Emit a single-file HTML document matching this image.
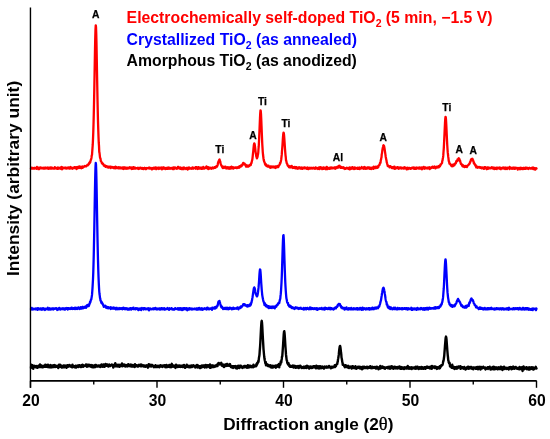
<!DOCTYPE html>
<html><head><meta charset="utf-8"><style>
html,body{margin:0;padding:0;background:#fff;}
svg{display:block;}
text{font-family:'Liberation Sans', Arial, sans-serif;font-weight:bold;}
</style></head><body>
<svg width="550" height="439" viewBox="0 0 550 439">
<rect width="550" height="439" fill="#fff"/>
<g fill="none" stroke-linejoin="round" stroke-linecap="round" stroke-width="2.3">
<path stroke="#000" stroke-width="2.4" d="M31.00 367.93L31.25 364.7 31.50 366.8 31.75 366.1 32.00 366.2 32.25 366.3 32.50 365.1 32.75 366.3 33.00 365.9 33.25 368.8 33.50 366.6 33.75 366.2 34.00 366.3 34.25 366.0 34.50 365.7 34.75 366.2 35.00 366.8 35.25 366.3 35.50 367.1 35.75 366.3 36.00 366.5 36.25 367.5 36.50 366.8 36.75 366.1 37.00 366.3 37.25 366.8 37.50 367.8 37.75 366.2 38.00 366.3 38.25 367.1 38.50 365.8 38.75 366.2 39.00 367.0 39.25 366.8 39.50 366.5 39.75 366.9 40.00 364.4 40.25 367.1 40.50 365.7 40.75 365.2 41.00 366.6 41.25 366.9 41.50 366.1 41.75 365.6 42.00 366.4 42.25 366.3 42.50 367.4 42.75 366.9 43.00 366.5 43.25 367.1 43.50 366.2 43.75 365.7 44.00 366.8 44.25 366.8 44.50 366.2 44.75 365.8 45.00 366.5 45.25 364.6 45.50 366.8 45.75 366.7 46.00 365.2 46.25 366.4 46.50 365.7 46.75 366.9 47.00 364.9 47.25 365.7 47.50 366.8 47.75 367.1 48.00 364.8 48.25 366.0 48.50 366.5 48.75 365.9 49.00 367.4 49.25 365.5 49.50 366.6 49.75 365.6 50.00 367.3 50.25 366.3 50.50 366.0 50.75 365.1 51.00 367.5 51.25 366.8 51.50 366.8 51.75 367.1 52.00 366.5 52.25 365.8 52.50 365.7 52.75 365.7 53.00 367.2 53.25 365.2 53.50 365.8 53.75 366.0 54.00 366.4 54.25 366.7 54.50 365.4 54.75 365.0 55.00 366.2 55.25 367.1 55.50 366.8 55.75 366.4 56.00 366.0 56.25 366.4 56.50 366.1 56.75 366.8 57.00 365.7 57.25 366.3 57.50 366.1 57.75 366.6 58.00 366.4 58.25 368.0 58.50 367.3 58.75 367.3 59.00 364.8 59.25 366.0 59.50 365.8 59.75 366.6 60.00 364.6 60.25 367.0 60.50 366.9 60.75 365.3 61.00 365.5 61.25 365.6 61.50 366.2 61.75 366.6 62.00 367.6 62.25 366.0 62.50 366.7 62.75 366.3 63.00 367.4 63.25 366.7 63.50 367.1 63.75 365.4 64.00 366.0 64.25 365.6 64.50 367.2 64.75 366.6 65.00 365.9 65.25 365.8 65.50 366.5 65.75 365.7 66.00 365.5 66.25 366.5 66.50 367.9 66.75 366.0 67.00 365.7 67.25 365.3 67.50 365.2 67.75 366.5 68.00 366.7 68.25 366.1 68.50 366.3 68.75 366.2 69.00 366.2 69.25 365.0 69.50 365.8 69.75 366.2 70.00 365.6 70.25 365.8 70.50 365.5 70.75 365.9 71.00 366.7 71.25 365.8 71.50 366.0 71.75 366.7 72.00 366.5 72.25 367.3 72.50 364.6 72.75 366.7 73.00 365.7 73.25 366.2 73.50 366.6 73.75 366.8 74.00 366.8 74.25 366.2 74.50 367.2 74.75 365.9 75.00 365.9 75.25 366.6 75.50 365.7 75.75 367.6 76.00 366.8 76.25 367.6 76.50 366.0 76.75 365.8 77.00 366.1 77.25 366.5 77.50 365.6 77.75 366.3 78.00 366.0 78.25 367.1 78.50 365.5 78.75 366.7 79.00 365.6 79.25 365.3 79.50 365.5 79.75 365.2 80.00 366.1 80.25 366.7 80.50 366.1 80.75 366.4 81.00 367.1 81.25 366.2 81.50 366.1 81.75 365.8 82.00 364.9 82.25 366.5 82.50 364.7 82.75 366.4 83.00 366.0 83.25 366.8 83.50 365.9 83.75 365.4 84.00 366.2 84.25 365.6 84.50 365.8 84.75 366.0 85.00 365.9 85.25 365.8 85.50 365.4 85.75 365.8 86.00 364.4 86.25 365.8 86.50 365.1 86.75 366.7 87.00 366.8 87.25 364.6 87.50 366.0 87.75 365.8 88.00 365.2 88.25 366.3 88.50 365.6 88.75 364.7 89.00 365.7 89.25 365.8 89.50 366.0 89.75 365.0 90.00 366.3 90.25 366.4 90.50 365.1 90.75 365.4 91.00 365.8 91.25 365.5 91.50 367.1 91.75 366.0 92.00 365.1 92.25 365.3 92.50 365.8 92.75 367.4 93.00 365.7 93.25 365.9 93.50 366.2 93.75 365.8 94.00 367.4 94.25 365.4 94.50 366.3 94.75 365.9 95.00 366.2 95.25 365.0 95.50 367.0 95.75 365.7 96.00 365.8 96.25 365.1 96.50 365.3 96.75 366.2 97.00 366.4 97.25 366.3 97.50 366.6 97.75 366.2 98.00 365.8 98.25 366.3 98.50 366.1 98.75 365.6 99.00 366.2 99.25 366.6 99.50 365.9 99.75 365.4 100.00 366.2 100.25 367.0 100.50 365.5 100.75 365.6 101.00 365.6 101.25 366.5 101.50 364.4 101.75 365.9 102.00 366.5 102.25 365.1 102.50 366.7 102.75 366.0 103.00 365.2 103.25 365.8 103.50 364.5 103.75 365.2 104.00 366.9 104.25 365.0 104.50 366.9 104.75 365.5 105.00 366.3 105.25 365.6 105.50 364.0 105.75 365.2 106.00 365.7 106.25 364.8 106.50 364.6 106.75 365.8 107.00 365.1 107.25 364.4 107.50 365.1 107.75 366.1 108.00 365.2 108.25 366.2 108.50 366.6 108.75 365.5 109.00 364.7 109.25 364.6 109.50 365.5 109.75 366.1 110.00 365.7 110.25 365.9 110.50 365.2 110.75 365.7 111.00 365.1 111.25 365.2 111.50 364.6 111.75 364.4 112.00 365.1 112.25 364.7 112.50 364.8 112.75 365.9 113.00 365.4 113.25 367.5 113.50 366.1 113.75 365.0 114.00 366.0 114.25 365.7 114.50 364.9 114.75 366.2 115.00 364.8 115.25 363.2 115.50 365.9 115.75 364.9 116.00 366.4 116.25 364.9 116.50 364.5 116.75 366.4 117.00 364.6 117.25 365.5 117.50 366.4 117.75 365.4 118.00 365.3 118.25 365.4 118.50 365.9 118.75 364.8 119.00 365.7 119.25 365.7 119.50 366.9 119.75 365.1 120.00 364.7 120.25 365.8 120.50 365.0 120.75 365.5 121.00 365.4 121.25 366.1 121.50 364.9 121.75 365.3 122.00 363.5 122.25 364.7 122.50 366.4 122.75 364.9 123.00 364.9 123.25 364.5 123.50 365.8 123.75 365.5 124.00 364.5 124.25 365.8 124.50 365.6 124.75 365.9 125.00 364.9 125.25 366.6 125.50 365.7 125.75 365.3 126.00 365.0 126.25 365.2 126.50 366.0 126.75 365.2 127.00 366.2 127.25 365.8 127.50 366.4 127.75 366.0 128.00 365.4 128.25 364.1 128.50 365.7 128.75 366.0 129.00 365.6 129.25 365.9 129.50 365.2 129.75 365.2 130.00 364.8 130.25 366.4 130.50 365.6 130.75 365.2 131.00 364.6 131.25 365.4 131.50 366.5 131.75 365.8 132.00 365.0 132.25 366.5 132.50 366.5 132.75 366.2 133.00 366.1 133.25 366.4 133.50 365.9 133.75 366.1 134.00 365.0 134.25 366.6 134.50 365.7 134.75 367.0 135.00 364.2 135.25 366.1 135.50 366.3 135.75 365.4 136.00 365.9 136.25 366.1 136.50 366.0 136.75 365.2 137.00 365.5 137.25 366.3 137.50 366.5 137.75 365.7 138.00 365.7 138.25 365.8 138.50 366.4 138.75 364.9 139.00 364.7 139.25 365.8 139.50 364.9 139.75 365.3 140.00 365.7 140.25 366.0 140.50 364.9 140.75 366.3 141.00 364.5 141.25 366.1 141.50 364.6 141.75 364.8 142.00 366.2 142.25 365.4 142.50 365.2 142.75 365.4 143.00 366.1 143.25 365.7 143.50 365.7 143.75 366.5 144.00 365.3 144.25 365.4 144.50 365.4 144.75 366.6 145.00 366.5 145.25 366.7 145.50 365.8 145.75 365.7 146.00 366.4 146.25 365.5 146.50 366.4 146.75 366.3 147.00 365.3 147.25 365.8 147.50 365.8 147.75 367.1 148.00 367.7 148.25 365.8 148.50 365.9 148.75 364.3 149.00 366.0 149.25 365.9 149.50 365.1 149.75 366.4 150.00 364.8 150.25 365.7 150.50 366.0 150.75 365.0 151.00 366.5 151.25 366.6 151.50 364.9 151.75 364.9 152.00 366.3 152.25 365.9 152.50 365.1 152.75 365.7 153.00 365.8 153.25 365.8 153.50 366.5 153.75 366.2 154.00 367.2 154.25 366.9 154.50 366.4 154.75 366.7 155.00 366.9 155.25 366.4 155.50 365.1 155.75 366.5 156.00 366.0 156.25 367.1 156.50 366.0 156.75 366.3 157.00 366.2 157.25 367.1 157.50 366.1 157.75 365.8 158.00 366.2 158.25 365.7 158.50 366.1 158.75 366.0 159.00 366.2 159.25 367.3 159.50 365.7 159.75 366.0 160.00 365.8 160.25 366.5 160.50 365.2 160.75 365.5 161.00 366.0 161.25 366.4 161.50 366.0 161.75 365.6 162.00 365.4 162.25 366.4 162.50 367.0 162.75 366.2 163.00 366.1 163.25 366.3 163.50 365.4 163.75 365.8 164.00 365.8 164.25 366.2 164.50 366.0 164.75 365.2 165.00 366.8 165.25 367.2 165.50 365.9 165.75 366.3 166.00 366.2 166.25 366.6 166.50 365.0 166.75 367.2 167.00 365.7 167.25 366.9 167.50 366.1 167.75 365.8 168.00 366.0 168.25 366.7 168.50 365.5 168.75 365.8 169.00 365.7 169.25 364.9 169.50 367.0 169.75 366.5 170.00 366.1 170.25 366.9 170.50 365.4 170.75 366.0 171.00 367.3 171.25 366.8 171.50 364.5 171.75 363.8 172.00 365.4 172.25 366.8 172.50 365.8 172.75 366.0 173.00 366.5 173.25 365.5 173.50 366.3 173.75 366.7 174.00 366.4 174.25 366.4 174.50 365.7 174.75 366.5 175.00 365.8 175.25 367.0 175.50 367.9 175.75 365.6 176.00 364.6 176.25 365.8 176.50 366.4 176.75 366.9 177.00 366.9 177.25 365.6 177.50 365.6 177.75 367.0 178.00 365.4 178.25 366.9 178.50 366.0 178.75 366.7 179.00 366.7 179.25 366.7 179.50 366.7 179.75 365.5 180.00 366.4 180.25 366.2 180.50 366.4 180.75 367.0 181.00 366.0 181.25 365.7 181.50 365.7 181.75 366.0 182.00 366.7 182.25 365.6 182.50 367.0 182.75 366.4 183.00 366.0 183.25 365.3 183.50 366.4 183.75 366.7 184.00 365.0 184.25 367.0 184.50 367.4 184.75 366.5 185.00 366.6 185.25 367.9 185.50 367.1 185.75 365.6 186.00 366.2 186.25 366.1 186.50 366.1 186.75 364.6 187.00 366.8 187.25 365.8 187.50 366.4 187.75 366.1 188.00 366.9 188.25 366.0 188.50 365.7 188.75 366.6 189.00 367.2 189.25 366.0 189.50 367.2 189.75 366.4 190.00 365.9 190.25 367.3 190.50 365.7 190.75 367.0 191.00 365.9 191.25 366.6 191.50 365.4 191.75 365.7 192.00 367.0 192.25 366.4 192.50 366.3 192.75 366.0 193.00 366.6 193.25 365.3 193.50 365.5 193.75 366.2 194.00 365.7 194.25 365.8 194.50 366.2 194.75 366.2 195.00 366.1 195.25 367.5 195.50 367.0 195.75 367.2 196.00 366.3 196.25 366.0 196.50 365.3 196.75 366.1 197.00 364.9 197.25 365.9 197.50 366.8 197.75 367.5 198.00 367.0 198.25 365.7 198.50 366.7 198.75 365.8 199.00 366.9 199.25 366.2 199.50 366.9 199.75 368.1 200.00 367.0 200.25 368.0 200.50 366.5 200.75 366.1 201.00 367.3 201.25 367.6 201.50 366.0 201.75 366.4 202.00 365.4 202.25 366.2 202.50 367.0 202.75 366.3 203.00 366.0 203.25 365.4 203.50 366.6 203.75 366.9 204.00 366.8 204.25 366.6 204.50 365.5 204.75 367.6 205.00 366.4 205.25 366.3 205.50 366.9 205.75 364.9 206.00 366.4 206.25 366.3 206.50 366.7 206.75 367.4 207.00 366.8 207.25 365.1 207.50 366.2 207.75 366.6 208.00 366.5 208.25 365.5 208.50 365.3 208.75 366.8 209.00 366.7 209.25 366.4 209.50 365.2 209.75 367.7 210.00 364.4 210.25 366.2 210.50 367.9 210.75 366.3 211.00 366.6 211.25 365.6 211.50 367.4 211.75 365.5 212.00 366.6 212.25 366.5 212.50 365.6 212.75 367.0 213.00 365.4 213.25 365.9 213.50 366.3 213.75 366.0 214.00 366.6 214.25 366.9 214.50 366.0 214.75 365.8 215.00 365.8 215.25 365.8 215.50 366.6 215.75 365.8 216.00 366.1 216.25 365.7 216.50 365.0 216.75 366.1 217.00 364.6 217.25 365.2 217.50 366.0 217.75 364.0 218.00 364.6 218.25 363.3 218.50 363.8 218.75 362.9 219.00 363.5 219.25 363.2 219.50 363.5 219.75 364.4 220.00 363.5 220.25 363.8 220.50 363.4 220.75 363.4 221.00 363.2 221.25 362.7 221.50 364.2 221.75 365.5 222.00 364.9 222.25 364.4 222.50 366.1 222.75 364.8 223.00 364.9 223.25 364.6 223.50 364.9 223.75 365.4 224.00 367.1 224.25 365.6 224.50 365.0 224.75 365.3 225.00 365.6 225.25 364.5 225.50 365.7 225.75 366.0 226.00 365.7 226.25 365.8 226.50 364.3 226.75 363.9 227.00 365.9 227.25 365.8 227.50 363.9 227.75 365.2 228.00 365.1 228.25 365.6 228.50 365.5 228.75 365.2 229.00 365.8 229.25 365.9 229.50 365.9 229.75 364.8 230.00 364.1 230.25 365.8 230.50 365.3 230.75 366.6 231.00 367.0 231.25 366.8 231.50 366.4 231.75 366.7 232.00 367.5 232.25 366.2 232.50 367.4 232.75 367.3 233.00 367.0 233.25 367.9 233.50 366.3 233.75 367.5 234.00 366.2 234.25 366.4 234.50 366.2 234.75 367.2 235.00 366.3 235.25 367.0 235.50 366.1 235.75 367.7 236.00 368.2 236.25 367.1 236.50 368.1 236.75 367.3 237.00 368.5 237.25 367.0 237.50 365.9 237.75 368.0 238.00 366.9 238.25 366.2 238.50 366.5 238.75 365.8 239.00 366.8 239.25 366.2 239.50 368.0 239.75 367.4 240.00 365.8 240.25 365.9 240.50 366.6 240.75 365.6 241.00 366.9 241.25 366.9 241.50 366.4 241.75 366.6 242.00 367.3 242.25 367.9 242.50 368.0 242.75 367.0 243.00 367.5 243.25 366.4 243.50 367.2 243.75 366.2 244.00 367.4 244.25 366.0 244.50 366.2 244.75 366.9 245.00 367.3 245.25 365.9 245.50 366.5 245.75 367.0 246.00 367.0 246.25 366.3 246.50 366.9 246.75 366.6 247.00 367.8 247.25 367.2 247.50 365.9 247.75 365.2 248.00 366.8 248.25 367.6 248.50 366.9 248.75 367.3 249.00 366.4 249.25 365.7 249.50 367.2 249.75 366.7 250.00 367.1 250.25 365.6 250.50 366.7 250.75 366.1 251.00 367.1 251.25 366.1 251.50 366.1 251.75 366.0 252.00 367.3 252.25 366.4 252.50 365.8 252.75 365.6 253.00 365.5 253.25 367.2 253.50 364.8 253.75 365.5 254.00 366.4 254.25 366.7 254.50 365.7 254.75 366.3 255.00 366.2 255.25 366.2 255.50 365.4 255.75 366.4 256.00 365.2 256.25 366.0 256.50 363.9 256.75 365.1 257.00 363.3 257.25 362.8 257.50 363.8 257.75 362.4 258.00 362.7 258.25 360.9 258.50 361.9 258.75 359.6 259.00 357.4 259.25 356.3 259.50 354.3 259.75 350.6 260.00 347.6 260.25 344.0 260.50 338.9 260.75 333.7 261.00 328.7 261.25 324.7 261.50 321.7 261.75 320.8 262.00 322.7 262.25 326.0 262.50 331.0 262.75 335.7 263.00 340.2 263.25 344.6 263.50 349.1 263.75 351.7 264.00 354.5 264.25 357.0 264.50 358.8 264.75 360.2 265.00 361.2 265.25 362.9 265.50 363.8 265.75 362.0 266.00 365.4 266.25 364.1 266.50 365.1 266.75 364.0 267.00 365.0 267.25 365.1 267.50 365.2 267.75 365.9 268.00 365.8 268.25 364.8 268.50 365.5 268.75 366.2 269.00 366.3 269.25 365.6 269.50 365.7 269.75 365.9 270.00 365.3 270.25 365.2 270.50 367.2 270.75 365.9 271.00 366.3 271.25 365.7 271.50 367.2 271.75 367.5 272.00 366.2 272.25 366.7 272.50 365.8 272.75 367.6 273.00 367.0 273.25 365.8 273.50 367.3 273.75 366.6 274.00 366.7 274.25 366.6 274.50 365.9 274.75 366.0 275.00 366.8 275.25 366.3 275.50 365.6 275.75 367.7 276.00 366.1 276.25 365.8 276.50 365.7 276.75 366.6 277.00 366.8 277.25 366.2 277.50 366.6 277.75 364.9 278.00 365.6 278.25 365.4 278.50 365.6 278.75 365.9 279.00 363.9 279.25 367.4 279.50 364.4 279.75 365.1 280.00 365.1 280.25 364.8 280.50 364.0 280.75 361.4 281.00 362.0 281.25 362.5 281.50 360.4 281.75 359.0 282.00 356.7 282.25 356.3 282.50 353.2 282.75 349.5 283.00 346.1 283.25 342.0 283.50 337.7 283.75 334.2 284.00 331.8 284.25 331.2 284.50 332.7 284.75 335.6 285.00 339.4 285.25 343.8 285.50 347.5 285.75 350.8 286.00 354.7 286.25 356.5 286.50 358.8 286.75 360.6 287.00 360.7 287.25 362.8 287.50 363.4 287.75 363.6 288.00 364.4 288.25 363.9 288.50 363.2 288.75 364.8 289.00 364.6 289.25 366.0 289.50 365.8 289.75 365.3 290.00 365.9 290.25 366.9 290.50 366.8 290.75 366.4 291.00 366.5 291.25 366.1 291.50 366.2 291.75 366.8 292.00 366.4 292.25 366.7 292.50 365.8 292.75 365.4 293.00 365.4 293.25 366.3 293.50 367.6 293.75 367.5 294.00 366.0 294.25 365.7 294.50 367.3 294.75 367.1 295.00 365.9 295.25 367.6 295.50 367.0 295.75 367.8 296.00 367.1 296.25 367.5 296.50 367.2 296.75 366.3 297.00 366.8 297.25 366.5 297.50 367.6 297.75 366.3 298.00 365.9 298.25 367.5 298.50 367.8 298.75 368.0 299.00 367.8 299.25 366.0 299.50 366.6 299.75 366.7 300.00 367.1 300.25 365.6 300.50 367.1 300.75 367.3 301.00 366.4 301.25 367.2 301.50 367.9 301.75 367.1 302.00 367.9 302.25 367.8 302.50 367.4 302.75 367.4 303.00 366.9 303.25 368.0 303.50 366.8 303.75 366.7 304.00 367.7 304.25 366.7 304.50 367.5 304.75 367.9 305.00 367.2 305.25 367.2 305.50 367.8 305.75 367.7 306.00 366.1 306.25 366.3 306.50 368.1 306.75 367.5 307.00 365.7 307.25 366.3 307.50 367.2 307.75 366.5 308.00 367.5 308.25 367.3 308.50 367.6 308.75 366.4 309.00 367.7 309.25 368.6 309.50 366.7 309.75 368.1 310.00 367.9 310.25 367.7 310.50 367.2 310.75 366.4 311.00 366.6 311.25 367.8 311.50 367.9 311.75 368.1 312.00 367.9 312.25 367.9 312.50 366.9 312.75 366.4 313.00 367.4 313.25 367.6 313.50 367.3 313.75 366.2 314.00 366.9 314.25 366.2 314.50 367.3 314.75 366.5 315.00 367.1 315.25 367.5 315.50 367.3 315.75 368.2 316.00 366.5 316.25 365.7 316.50 367.9 316.75 368.2 317.00 368.3 317.25 367.5 317.50 367.6 317.75 367.3 318.00 366.3 318.25 366.9 318.50 367.6 318.75 366.8 319.00 368.6 319.25 366.2 319.50 366.9 319.75 368.0 320.00 366.8 320.25 366.5 320.50 366.3 320.75 366.7 321.00 368.3 321.25 367.5 321.50 367.6 321.75 366.9 322.00 367.8 322.25 367.3 322.50 366.6 322.75 366.9 323.00 367.4 323.25 368.1 323.50 367.2 323.75 367.6 324.00 368.6 324.25 366.7 324.50 366.4 324.75 367.9 325.00 367.5 325.25 367.1 325.50 367.4 325.75 367.0 326.00 367.6 326.25 367.0 326.50 367.7 326.75 366.4 327.00 366.6 327.25 367.2 327.50 366.8 327.75 367.6 328.00 367.1 328.25 366.8 328.50 367.3 328.75 366.7 329.00 366.0 329.25 366.3 329.50 366.5 329.75 366.7 330.00 367.1 330.25 367.7 330.50 367.4 330.75 368.3 331.00 367.9 331.25 366.8 331.50 368.1 331.75 367.7 332.00 366.6 332.25 367.1 332.50 367.6 332.75 367.0 333.00 367.5 333.25 367.0 333.50 367.1 333.75 366.4 334.00 366.8 334.25 366.2 334.50 366.9 334.75 365.1 335.00 366.4 335.25 366.9 335.50 366.3 335.75 365.7 336.00 365.9 336.25 364.7 336.50 364.4 336.75 364.3 337.00 363.9 337.25 364.0 337.50 362.0 337.75 362.0 338.00 359.4 338.25 358.3 338.50 356.7 338.75 354.9 339.00 352.2 339.25 349.6 339.50 348.0 339.75 346.5 340.00 345.9 340.25 346.4 340.50 347.9 340.75 350.1 341.00 352.5 341.25 354.2 341.50 357.5 341.75 358.6 342.00 360.0 342.25 361.8 342.50 362.6 342.75 364.9 343.00 364.8 343.25 364.3 343.50 364.7 343.75 365.0 344.00 365.3 344.25 366.3 344.50 365.5 344.75 367.2 345.00 366.2 345.25 366.2 345.50 367.1 345.75 365.1 346.00 365.9 346.25 367.1 346.50 366.7 346.75 366.8 347.00 367.1 347.25 366.5 347.50 366.8 347.75 366.0 348.00 365.7 348.25 367.9 348.50 366.4 348.75 366.6 349.00 368.1 349.25 367.9 349.50 366.8 349.75 366.8 350.00 367.1 350.25 366.5 350.50 367.6 350.75 367.3 351.00 367.3 351.25 367.8 351.50 367.8 351.75 368.6 352.00 368.3 352.25 366.1 352.50 367.9 352.75 366.5 353.00 366.3 353.25 367.8 353.50 366.8 353.75 367.1 354.00 368.1 354.25 366.9 354.50 366.7 354.75 367.6 355.00 368.2 355.25 367.8 355.50 366.3 355.75 366.9 356.00 367.3 356.25 368.8 356.50 368.0 356.75 368.0 357.00 368.3 357.25 367.2 357.50 367.8 357.75 367.8 358.00 366.8 358.25 367.4 358.50 367.8 358.75 366.7 359.00 368.0 359.25 368.0 359.50 368.2 359.75 366.9 360.00 367.5 360.25 368.5 360.50 368.0 360.75 366.9 361.00 367.6 361.25 368.5 361.50 367.4 361.75 367.8 362.00 369.3 362.25 367.5 362.50 367.4 362.75 366.8 363.00 367.0 363.25 368.5 363.50 367.4 363.75 366.7 364.00 366.9 364.25 367.5 364.50 368.1 364.75 367.0 365.00 368.0 365.25 367.2 365.50 367.8 365.75 367.9 366.00 368.0 366.25 367.2 366.50 367.4 366.75 367.9 367.00 366.6 367.25 367.7 367.50 367.9 367.75 368.3 368.00 367.5 368.25 367.4 368.50 367.6 368.75 367.0 369.00 367.4 369.25 367.8 369.50 367.7 369.75 366.8 370.00 367.3 370.25 366.1 370.50 368.1 370.75 367.2 371.00 367.7 371.25 366.8 371.50 367.5 371.75 367.9 372.00 368.2 372.25 366.6 372.50 368.1 372.75 367.4 373.00 367.0 373.25 367.9 373.50 367.3 373.75 367.3 374.00 367.1 374.25 367.7 374.50 367.6 374.75 367.4 375.00 366.9 375.25 367.2 375.50 367.8 375.75 368.5 376.00 367.5 376.25 368.6 376.50 367.6 376.75 366.8 377.00 368.0 377.25 366.9 377.50 367.9 377.75 368.3 378.00 367.4 378.25 367.5 378.50 369.3 378.75 367.8 379.00 367.8 379.25 368.1 379.50 367.5 379.75 367.5 380.00 367.9 380.25 365.9 380.50 368.6 380.75 366.9 381.00 366.8 381.25 368.0 381.50 367.6 381.75 366.7 382.00 367.8 382.25 366.8 382.50 367.1 382.75 366.6 383.00 367.0 383.25 367.9 383.50 367.7 383.75 367.8 384.00 368.3 384.25 367.6 384.50 367.2 384.75 367.4 385.00 368.8 385.25 367.6 385.50 367.8 385.75 367.6 386.00 367.8 386.25 367.9 386.50 367.6 386.75 367.5 387.00 367.1 387.25 367.0 387.50 367.9 387.75 368.2 388.00 368.3 388.25 367.7 388.50 367.1 388.75 368.1 389.00 368.1 389.25 366.6 389.50 368.2 389.75 368.1 390.00 368.8 390.25 366.9 390.50 366.8 390.75 368.2 391.00 366.4 391.25 367.1 391.50 366.9 391.75 367.0 392.00 366.3 392.25 367.5 392.50 368.3 392.75 368.0 393.00 368.0 393.25 367.4 393.50 368.7 393.75 368.0 394.00 368.4 394.25 366.6 394.50 367.9 394.75 366.9 395.00 367.9 395.25 367.8 395.50 366.9 395.75 367.8 396.00 368.5 396.25 368.0 396.50 368.1 396.75 367.1 397.00 367.2 397.25 366.9 397.50 367.8 397.75 368.5 398.00 368.0 398.25 367.7 398.50 366.9 398.75 368.0 399.00 367.5 399.25 366.4 399.50 366.5 399.75 367.5 400.00 367.1 400.25 368.9 400.50 367.7 400.75 367.0 401.00 367.4 401.25 368.8 401.50 367.1 401.75 368.3 402.00 368.0 402.25 368.7 402.50 368.1 402.75 367.4 403.00 368.1 403.25 367.8 403.50 368.4 403.75 367.7 404.00 369.1 404.25 367.7 404.50 368.0 404.75 367.3 405.00 367.8 405.25 367.8 405.50 367.9 405.75 368.4 406.00 367.4 406.25 367.2 406.50 368.5 406.75 367.5 407.00 367.3 407.25 368.6 407.50 368.3 407.75 365.9 408.00 367.5 408.25 368.3 408.50 368.3 408.75 367.4 409.00 368.8 409.25 367.2 409.50 367.6 409.75 367.8 410.00 367.8 410.25 368.3 410.50 368.5 410.75 367.7 411.00 368.7 411.25 367.3 411.50 367.6 411.75 369.0 412.00 367.8 412.25 368.5 412.50 367.5 412.75 367.6 413.00 367.7 413.25 367.9 413.50 367.5 413.75 367.8 414.00 368.2 414.25 368.6 414.50 367.9 414.75 368.2 415.00 368.4 415.25 367.0 415.50 366.7 415.75 368.9 416.00 368.7 416.25 367.8 416.50 368.0 416.75 367.1 417.00 366.8 417.25 368.0 417.50 366.7 417.75 368.4 418.00 367.3 418.25 368.0 418.50 369.1 418.75 369.1 419.00 367.6 419.25 368.5 419.50 367.1 419.75 367.4 420.00 368.0 420.25 368.7 420.50 367.4 420.75 368.2 421.00 367.8 421.25 366.9 421.50 367.7 421.75 368.8 422.00 367.7 422.25 368.1 422.50 368.3 422.75 367.3 423.00 368.6 423.25 368.8 423.50 368.9 423.75 368.7 424.00 367.4 424.25 367.4 424.50 367.2 424.75 367.1 425.00 367.2 425.25 368.4 425.50 368.8 425.75 367.3 426.00 368.3 426.25 366.9 426.50 367.5 426.75 367.0 427.00 366.6 427.25 367.8 427.50 367.8 427.75 367.4 428.00 367.4 428.25 367.0 428.50 367.6 428.75 367.3 429.00 367.9 429.25 366.9 429.50 367.9 429.75 368.0 430.00 368.6 430.25 368.4 430.50 367.8 430.75 367.2 431.00 366.4 431.25 367.7 431.50 368.6 431.75 368.8 432.00 365.9 432.25 367.1 432.50 367.4 432.75 366.9 433.00 367.7 433.25 367.6 433.50 367.2 433.75 367.5 434.00 366.4 434.25 366.9 434.50 366.9 434.75 368.1 435.00 366.4 435.25 367.3 435.50 368.0 435.75 367.4 436.00 368.0 436.25 366.9 436.50 367.7 436.75 368.0 437.00 368.9 437.25 367.8 437.50 368.2 437.75 367.2 438.00 367.2 438.25 368.2 438.50 367.5 438.75 368.0 439.00 367.4 439.25 368.4 439.50 368.5 439.75 366.1 440.00 367.9 440.25 366.8 440.50 366.7 440.75 366.2 441.00 366.6 441.25 365.2 441.50 365.2 441.75 364.9 442.00 365.4 442.25 365.4 442.50 364.8 442.75 364.0 443.00 362.6 443.25 360.9 443.50 361.0 443.75 359.3 444.00 357.5 444.25 355.6 444.50 352.2 444.75 349.1 445.00 345.3 445.25 342.6 445.50 339.5 445.75 337.3 446.00 336.6 446.25 337.3 446.50 339.4 446.75 342.8 447.00 346.0 447.25 349.5 447.50 352.5 447.75 355.3 448.00 357.4 448.25 360.4 448.50 360.7 448.75 362.5 449.00 362.8 449.25 363.5 449.50 362.6 449.75 363.5 450.00 366.3 450.25 366.5 450.50 365.5 450.75 365.9 451.00 366.6 451.25 365.6 451.50 367.7 451.75 365.8 452.00 366.2 452.25 364.8 452.50 367.9 452.75 367.0 453.00 368.1 453.25 366.4 453.50 367.4 453.75 367.2 454.00 367.4 454.25 368.7 454.50 368.9 454.75 368.3 455.00 367.1 455.25 368.0 455.50 368.4 455.75 367.9 456.00 367.9 456.25 367.9 456.50 366.9 456.75 367.7 457.00 368.7 457.25 366.9 457.50 367.7 457.75 368.2 458.00 366.7 458.25 367.6 458.50 366.5 458.75 367.3 459.00 366.7 459.25 367.1 459.50 367.4 459.75 367.5 460.00 367.6 460.25 366.1 460.50 368.9 460.75 367.6 461.00 367.0 461.25 367.3 461.50 368.0 461.75 367.1 462.00 367.5 462.25 367.5 462.50 368.2 462.75 367.3 463.00 368.2 463.25 368.1 463.50 367.7 463.75 368.7 464.00 367.9 464.25 367.0 464.50 368.1 464.75 368.0 465.00 367.8 465.25 368.0 465.50 369.5 465.75 368.1 466.00 368.2 466.25 367.7 466.50 368.8 466.75 367.9 467.00 367.3 467.25 367.1 467.50 368.3 467.75 368.4 468.00 366.8 468.25 367.4 468.50 368.4 468.75 368.7 469.00 367.0 469.25 367.7 469.50 368.5 469.75 367.6 470.00 367.6 470.25 367.6 470.50 367.0 470.75 368.0 471.00 368.2 471.25 367.0 471.50 368.0 471.75 368.7 472.00 368.1 472.25 368.6 472.50 367.6 472.75 368.9 473.00 367.4 473.25 369.3 473.50 367.7 473.75 367.5 474.00 367.4 474.25 367.7 474.50 367.6 474.75 367.5 475.00 367.8 475.25 368.5 475.50 368.6 475.75 367.8 476.00 368.9 476.25 367.3 476.50 367.3 476.75 367.2 477.00 368.4 477.25 366.9 477.50 367.0 477.75 368.9 478.00 369.2 478.25 369.0 478.50 367.0 478.75 368.0 479.00 368.6 479.25 368.1 479.50 366.9 479.75 367.8 480.00 366.8 480.25 367.2 480.50 369.5 480.75 368.5 481.00 367.0 481.25 367.0 481.50 368.4 481.75 367.6 482.00 368.4 482.25 367.6 482.50 367.9 482.75 368.2 483.00 367.3 483.25 366.7 483.50 367.2 483.75 367.6 484.00 367.9 484.25 368.0 484.50 368.0 484.75 368.4 485.00 367.4 485.25 369.0 485.50 369.5 485.75 368.3 486.00 368.2 486.25 368.9 486.50 368.5 486.75 368.2 487.00 367.9 487.25 367.5 487.50 367.2 487.75 368.5 488.00 368.9 488.25 367.3 488.50 368.0 488.75 368.2 489.00 367.8 489.25 367.5 489.50 367.8 489.75 366.7 490.00 368.0 490.25 367.9 490.50 369.6 490.75 368.7 491.00 367.8 491.25 368.1 491.50 369.3 491.75 369.2 492.00 368.2 492.25 368.0 492.50 367.1 492.75 367.9 493.00 368.0 493.25 367.6 493.50 369.3 493.75 366.8 494.00 368.0 494.25 368.4 494.50 368.4 494.75 369.3 495.00 367.1 495.25 367.6 495.50 368.2 495.75 368.2 496.00 367.8 496.25 367.6 496.50 368.9 496.75 367.4 497.00 367.7 497.25 369.1 497.50 369.3 497.75 368.7 498.00 367.5 498.25 367.5 498.50 367.5 498.75 367.3 499.00 367.8 499.25 369.0 499.50 368.3 499.75 367.6 500.00 367.6 500.25 367.3 500.50 369.0 500.75 366.7 501.00 368.3 501.25 367.1 501.50 367.4 501.75 367.1 502.00 368.8 502.25 368.1 502.50 370.0 502.75 367.4 503.00 367.4 503.25 368.5 503.50 368.5 503.75 367.9 504.00 366.7 504.25 369.1 504.50 368.5 504.75 368.4 505.00 367.7 505.25 368.6 505.50 367.7 505.75 368.2 506.00 368.0 506.25 369.0 506.50 367.8 506.75 367.9 507.00 368.9 507.25 368.3 507.50 368.1 507.75 368.0 508.00 368.8 508.25 367.7 508.50 368.5 508.75 369.6 509.00 368.4 509.25 367.6 509.50 367.3 509.75 368.2 510.00 367.3 510.25 367.0 510.50 367.6 510.75 367.4 511.00 368.8 511.25 367.1 511.50 369.3 511.75 367.6 512.00 368.2 512.25 368.6 512.50 368.3 512.75 368.7 513.00 367.5 513.25 366.6 513.50 368.0 513.75 367.0 514.00 367.7 514.25 368.8 514.50 368.0 514.75 367.7 515.00 367.4 515.25 367.9 515.50 368.0 515.75 367.0 516.00 368.4 516.25 367.4 516.50 368.3 516.75 367.8 517.00 368.8 517.25 368.8 517.50 368.2 517.75 368.1 518.00 368.5 518.25 369.1 518.50 368.9 518.75 368.3 519.00 368.4 519.25 369.3 519.50 367.0 519.75 368.6 520.00 367.6 520.25 369.1 520.50 367.8 520.75 368.1 521.00 367.4 521.25 368.2 521.50 368.8 521.75 369.4 522.00 367.3 522.25 367.9 522.50 371.0 522.75 368.9 523.00 368.2 523.25 368.6 523.50 366.4 523.75 369.4 524.00 368.3 524.25 367.2 524.50 369.1 524.75 367.8 525.00 367.5 525.25 368.6 525.50 368.5 525.75 367.9 526.00 368.2 526.25 367.3 526.50 367.2 526.75 368.9 527.00 369.2 527.25 368.6 527.50 368.5 527.75 368.0 528.00 368.2 528.25 367.6 528.50 369.5 528.75 367.9 529.00 368.5 529.25 368.3 529.50 367.3 529.75 369.6 530.00 368.0 530.25 367.7 530.50 368.3 530.75 367.6 531.00 368.3 531.25 367.6 531.50 368.7 531.75 368.3 532.00 367.3 532.25 369.0 532.50 368.4 532.75 367.5 533.00 368.5 533.25 368.6 533.50 369.6 533.75 367.7 534.00 368.9 534.25 368.2 534.50 368.7 534.75 368.1 535.00 368.2 535.25 368.6 535.50 367.5 535.75 366.8 536.00 368.3 536.25 368.0 536.50 368.4"/>
<path stroke="#0000ff" d="M31.00 309.03L31.25 308.7 31.50 308.8 31.75 307.8 32.00 309.7 32.25 309.5 32.50 308.8 32.75 309.3 33.00 309.1 33.25 308.7 33.50 309.4 33.75 308.8 34.00 308.8 34.25 308.6 34.50 309.1 34.75 308.9 35.00 309.2 35.25 308.7 35.50 309.0 35.75 308.5 36.00 309.3 36.25 309.0 36.50 309.1 36.75 309.1 37.00 308.5 37.25 309.3 37.50 309.9 37.75 308.2 38.00 308.1 38.25 308.2 38.50 309.3 38.75 309.0 39.00 309.4 39.25 309.2 39.50 309.0 39.75 309.1 40.00 308.8 40.25 309.3 40.50 308.4 40.75 308.7 41.00 309.0 41.25 309.7 41.50 308.6 41.75 308.4 42.00 308.7 42.25 309.4 42.50 308.8 42.75 309.5 43.00 308.1 43.25 309.4 43.50 309.4 43.75 308.3 44.00 309.0 44.25 309.5 44.50 308.9 44.75 309.4 45.00 310.0 45.25 309.0 45.50 308.8 45.75 308.6 46.00 309.2 46.25 308.8 46.50 308.8 46.75 308.9 47.00 309.2 47.25 308.4 47.50 308.2 47.75 307.8 48.00 309.4 48.25 308.9 48.50 309.6 48.75 308.9 49.00 308.6 49.25 309.1 49.50 308.9 49.75 308.3 50.00 308.5 50.25 309.7 50.50 309.0 50.75 309.1 51.00 308.8 51.25 308.6 51.50 309.3 51.75 308.8 52.00 308.5 52.25 308.8 52.50 308.5 52.75 309.0 53.00 309.4 53.25 308.5 53.50 309.5 53.75 308.6 54.00 308.9 54.25 308.5 54.50 308.8 54.75 308.9 55.00 308.7 55.25 308.5 55.50 308.6 55.75 308.5 56.00 308.1 56.25 308.7 56.50 309.0 56.75 309.3 57.00 309.1 57.25 310.0 57.50 309.0 57.75 308.6 58.00 309.7 58.25 308.4 58.50 309.3 58.75 308.4 59.00 309.0 59.25 307.9 59.50 309.2 59.75 308.8 60.00 308.4 60.25 309.6 60.50 309.2 60.75 308.8 61.00 308.5 61.25 308.8 61.50 308.7 61.75 309.1 62.00 309.2 62.25 308.5 62.50 308.5 62.75 308.6 63.00 308.2 63.25 308.5 63.50 308.7 63.75 309.1 64.00 309.4 64.25 308.4 64.50 309.0 64.75 308.6 65.00 309.7 65.25 308.7 65.50 309.0 65.75 308.3 66.00 308.4 66.25 308.8 66.50 308.6 66.75 308.9 67.00 308.0 67.25 309.0 67.50 308.3 67.75 309.5 68.00 308.6 68.25 309.2 68.50 308.1 68.75 308.9 69.00 308.3 69.25 308.5 69.50 308.7 69.75 308.5 70.00 308.8 70.25 309.0 70.50 308.9 70.75 308.6 71.00 308.0 71.25 308.3 71.50 308.5 71.75 307.7 72.00 308.9 72.25 308.5 72.50 308.5 72.75 309.0 73.00 308.9 73.25 308.7 73.50 308.1 73.75 308.7 74.00 308.7 74.25 308.1 74.50 309.0 74.75 308.7 75.00 307.6 75.25 308.5 75.50 307.9 75.75 309.0 76.00 308.8 76.25 307.9 76.50 308.0 76.75 308.4 77.00 308.3 77.25 309.0 77.50 308.7 77.75 308.2 78.00 308.6 78.25 307.4 78.50 308.4 78.75 308.6 79.00 308.1 79.25 307.9 79.50 308.4 79.75 309.0 80.00 308.2 80.25 307.6 80.50 308.7 80.75 307.2 81.00 308.2 81.25 307.7 81.50 308.4 81.75 307.5 82.00 308.5 82.25 307.9 82.50 307.0 82.75 306.8 83.00 307.5 83.25 308.2 83.50 307.6 83.75 307.5 84.00 307.3 84.25 307.7 84.50 307.5 84.75 307.4 85.00 306.7 85.25 307.6 85.50 307.6 85.75 306.3 86.00 307.8 86.25 307.0 86.50 306.3 86.75 305.5 87.00 306.6 87.25 306.4 87.50 305.7 87.75 304.9 88.00 306.0 88.25 305.1 88.50 304.9 88.75 306.1 89.00 305.5 89.25 304.6 89.50 303.6 89.75 303.7 90.00 301.9 90.25 302.5 90.50 301.5 90.75 300.5 91.00 299.6 91.25 299.5 91.50 298.1 91.75 296.6 92.00 294.9 92.25 291.7 92.50 288.2 92.75 283.8 93.00 279.2 93.25 273.0 93.50 264.5 93.75 255.0 94.00 243.1 94.25 230.4 94.50 216.4 94.75 201.8 95.00 188.1 95.25 175.7 95.50 166.7 95.75 162.8 96.00 164.5 96.25 171.5 96.50 182.7 96.75 196.1 97.00 210.7 97.25 224.8 97.50 238.3 97.75 250.0 98.00 260.3 98.25 269.2 98.50 276.5 98.75 282.5 99.00 287.3 99.25 291.5 99.50 294.0 99.75 295.7 100.00 297.8 100.25 298.5 100.50 300.6 100.75 301.1 101.00 300.9 101.25 302.5 101.50 303.1 101.75 302.0 102.00 303.3 102.25 303.8 102.50 303.5 102.75 304.2 103.00 304.5 103.25 305.5 103.50 305.6 103.75 306.8 104.00 305.7 104.25 306.6 104.50 306.2 104.75 306.5 105.00 306.0 105.25 305.7 105.50 306.4 105.75 307.2 106.00 307.6 106.25 307.3 106.50 307.3 106.75 306.8 107.00 308.0 107.25 308.0 107.50 307.2 107.75 307.5 108.00 307.1 108.25 308.3 108.50 307.8 108.75 307.7 109.00 307.9 109.25 308.0 109.50 307.7 109.75 307.3 110.00 307.3 110.25 307.2 110.50 308.2 110.75 309.0 111.00 307.3 111.25 308.1 111.50 308.3 111.75 307.7 112.00 308.3 112.25 307.7 112.50 308.7 112.75 308.0 113.00 308.3 113.25 308.6 113.50 308.1 113.75 307.5 114.00 308.1 114.25 308.7 114.50 308.3 114.75 308.5 115.00 307.9 115.25 308.5 115.50 308.8 115.75 308.5 116.00 309.3 116.25 308.4 116.50 308.0 116.75 307.8 117.00 309.0 117.25 308.5 117.50 309.0 117.75 308.7 118.00 309.3 118.25 309.1 118.50 308.4 118.75 308.7 119.00 309.1 119.25 308.0 119.50 309.2 119.75 309.1 120.00 309.1 120.25 308.5 120.50 308.8 120.75 308.1 121.00 308.7 121.25 308.4 121.50 308.7 121.75 308.4 122.00 308.8 122.25 309.2 122.50 308.1 122.75 309.1 123.00 307.8 123.25 307.7 123.50 308.6 123.75 308.7 124.00 308.9 124.25 308.0 124.50 308.7 124.75 308.8 125.00 309.3 125.25 308.7 125.50 309.0 125.75 308.3 126.00 308.7 126.25 308.5 126.50 309.1 126.75 308.3 127.00 308.4 127.25 309.0 127.50 309.6 127.75 308.9 128.00 308.9 128.25 308.6 128.50 309.3 128.75 309.0 129.00 309.6 129.25 308.9 129.50 308.4 129.75 308.5 130.00 308.4 130.25 308.2 130.50 309.4 130.75 309.2 131.00 308.2 131.25 309.6 131.50 308.9 131.75 308.4 132.00 309.0 132.25 308.8 132.50 308.5 132.75 307.9 133.00 308.8 133.25 309.0 133.50 307.7 133.75 309.1 134.00 309.1 134.25 308.6 134.50 308.9 134.75 308.7 135.00 308.5 135.25 308.7 135.50 309.4 135.75 308.2 136.00 309.0 136.25 308.9 136.50 308.5 136.75 308.7 137.00 308.2 137.25 308.5 137.50 308.9 137.75 309.0 138.00 308.5 138.25 310.2 138.50 308.6 138.75 308.9 139.00 308.8 139.25 308.7 139.50 309.4 139.75 308.6 140.00 309.5 140.25 309.4 140.50 308.4 140.75 309.3 141.00 308.6 141.25 310.1 141.50 308.7 141.75 308.5 142.00 308.0 142.25 308.3 142.50 308.6 142.75 308.4 143.00 308.3 143.25 308.6 143.50 308.8 143.75 309.5 144.00 308.1 144.25 308.6 144.50 308.5 144.75 308.2 145.00 308.3 145.25 308.5 145.50 309.2 145.75 308.8 146.00 308.6 146.25 309.2 146.50 309.0 146.75 308.8 147.00 309.1 147.25 308.5 147.50 309.2 147.75 309.1 148.00 308.7 148.25 308.3 148.50 309.6 148.75 308.9 149.00 310.3 149.25 308.6 149.50 309.3 149.75 308.7 150.00 309.0 150.25 309.3 150.50 308.5 150.75 308.9 151.00 309.0 151.25 309.0 151.50 309.2 151.75 309.4 152.00 309.3 152.25 309.0 152.50 308.7 152.75 308.4 153.00 308.6 153.25 308.7 153.50 309.2 153.75 308.7 154.00 308.3 154.25 309.2 154.50 308.5 154.75 308.6 155.00 308.8 155.25 309.1 155.50 307.8 155.75 308.4 156.00 309.0 156.25 308.7 156.50 308.5 156.75 308.7 157.00 309.5 157.25 308.7 157.50 309.2 157.75 309.3 158.00 308.7 158.25 309.1 158.50 308.7 158.75 308.6 159.00 308.4 159.25 309.3 159.50 308.7 159.75 308.7 160.00 308.4 160.25 309.7 160.50 309.3 160.75 308.9 161.00 308.6 161.25 308.2 161.50 309.0 161.75 309.0 162.00 308.3 162.25 309.4 162.50 309.3 162.75 308.5 163.00 308.7 163.25 308.7 163.50 309.0 163.75 308.9 164.00 308.2 164.25 309.6 164.50 309.1 164.75 309.5 165.00 309.5 165.25 308.8 165.50 309.1 165.75 309.3 166.00 309.3 166.25 308.8 166.50 308.6 166.75 308.9 167.00 308.6 167.25 308.7 167.50 308.0 167.75 309.0 168.00 308.5 168.25 308.7 168.50 308.9 168.75 309.1 169.00 309.8 169.25 309.0 169.50 308.3 169.75 309.0 170.00 308.7 170.25 309.1 170.50 308.6 170.75 308.6 171.00 308.7 171.25 308.6 171.50 308.1 171.75 308.6 172.00 308.9 172.25 309.5 172.50 308.8 172.75 308.8 173.00 309.2 173.25 309.2 173.50 309.6 173.75 309.2 174.00 308.9 174.25 309.5 174.50 309.6 174.75 308.7 175.00 309.0 175.25 308.2 175.50 308.8 175.75 308.5 176.00 308.8 176.25 308.7 176.50 308.8 176.75 308.9 177.00 309.1 177.25 309.0 177.50 308.7 177.75 308.3 178.00 309.5 178.25 309.6 178.50 308.7 178.75 309.2 179.00 308.2 179.25 308.2 179.50 308.8 179.75 309.6 180.00 308.4 180.25 308.5 180.50 309.6 180.75 308.1 181.00 309.2 181.25 309.1 181.50 308.8 181.75 309.0 182.00 310.1 182.25 308.4 182.50 308.8 182.75 308.8 183.00 308.6 183.25 308.3 183.50 309.6 183.75 309.0 184.00 308.1 184.25 308.6 184.50 309.1 184.75 309.1 185.00 308.3 185.25 308.9 185.50 309.0 185.75 309.1 186.00 309.1 186.25 308.1 186.50 309.7 186.75 309.0 187.00 309.7 187.25 310.2 187.50 308.8 187.75 308.4 188.00 309.3 188.25 308.8 188.50 308.7 188.75 308.4 189.00 309.7 189.25 308.7 189.50 308.3 189.75 308.7 190.00 308.4 190.25 309.0 190.50 308.7 190.75 308.4 191.00 309.2 191.25 308.6 191.50 309.2 191.75 309.5 192.00 308.7 192.25 308.6 192.50 309.0 192.75 309.3 193.00 308.9 193.25 309.0 193.50 308.9 193.75 309.0 194.00 309.2 194.25 308.6 194.50 308.7 194.75 308.9 195.00 308.6 195.25 309.0 195.50 309.1 195.75 308.9 196.00 308.6 196.25 308.5 196.50 309.7 196.75 309.3 197.00 308.4 197.25 308.5 197.50 309.7 197.75 309.6 198.00 308.9 198.25 309.4 198.50 308.2 198.75 308.9 199.00 309.2 199.25 308.0 199.50 308.5 199.75 309.2 200.00 309.4 200.25 308.6 200.50 309.0 200.75 309.6 201.00 308.7 201.25 308.3 201.50 308.8 201.75 308.7 202.00 309.5 202.25 308.9 202.50 308.5 202.75 309.9 203.00 308.6 203.25 309.1 203.50 309.2 203.75 309.2 204.00 308.9 204.25 309.1 204.50 308.8 204.75 308.2 205.00 308.7 205.25 308.7 205.50 308.8 205.75 308.9 206.00 308.5 206.25 309.4 206.50 309.5 206.75 307.8 207.00 308.8 207.25 308.5 207.50 307.6 207.75 309.0 208.00 308.5 208.25 308.6 208.50 308.5 208.75 309.3 209.00 309.3 209.25 308.9 209.50 309.1 209.75 308.7 210.00 308.8 210.25 308.4 210.50 308.7 210.75 308.4 211.00 308.9 211.25 309.1 211.50 308.8 211.75 309.2 212.00 309.9 212.25 307.7 212.50 308.6 212.75 308.3 213.00 308.4 213.25 307.9 213.50 308.5 213.75 308.4 214.00 308.2 214.25 308.3 214.50 308.1 214.75 307.3 215.00 308.7 215.25 308.0 215.50 307.6 215.75 308.1 216.00 307.5 216.25 306.6 216.50 307.7 216.75 306.2 217.00 306.5 217.25 306.1 217.50 306.0 217.75 305.1 218.00 303.7 218.25 302.4 218.50 301.6 218.75 301.5 219.00 301.4 219.25 300.9 219.50 300.9 219.75 302.4 220.00 302.7 220.25 303.7 220.50 304.6 220.75 305.7 221.00 306.2 221.25 307.1 221.50 307.6 221.75 307.6 222.00 306.5 222.25 307.0 222.50 308.0 222.75 308.0 223.00 309.1 223.25 308.2 223.50 308.2 223.75 308.7 224.00 308.8 224.25 308.3 224.50 308.6 224.75 307.9 225.00 308.0 225.25 309.0 225.50 307.9 225.75 308.9 226.00 308.8 226.25 308.9 226.50 309.0 226.75 308.8 227.00 307.6 227.25 308.1 227.50 308.3 227.75 309.0 228.00 308.1 228.25 308.3 228.50 308.4 228.75 309.2 229.00 307.9 229.25 308.0 229.50 308.9 229.75 307.6 230.00 308.7 230.25 308.4 230.50 307.9 230.75 308.4 231.00 308.1 231.25 308.6 231.50 308.7 231.75 309.2 232.00 308.5 232.25 308.6 232.50 308.3 232.75 308.5 233.00 309.0 233.25 307.6 233.50 308.8 233.75 308.2 234.00 308.5 234.25 308.6 234.50 308.8 234.75 308.5 235.00 308.2 235.25 308.5 235.50 308.4 235.75 308.3 236.00 308.4 236.25 308.7 236.50 308.4 236.75 308.4 237.00 307.7 237.25 308.2 237.50 307.4 237.75 308.5 238.00 307.7 238.25 308.7 238.50 309.4 238.75 307.8 239.00 308.5 239.25 308.0 239.50 307.5 239.75 307.3 240.00 307.8 240.25 308.1 240.50 307.5 240.75 306.5 241.00 306.5 241.25 306.7 241.50 307.2 241.75 306.5 242.00 306.3 242.25 306.4 242.50 305.6 242.75 305.4 243.00 305.1 243.25 304.2 243.50 305.0 243.75 304.9 244.00 305.0 244.25 304.1 244.50 304.3 244.75 305.2 245.00 305.0 245.25 305.6 245.50 304.8 245.75 305.4 246.00 305.2 246.25 305.8 246.50 305.6 246.75 306.1 247.00 306.4 247.25 306.3 247.50 305.2 247.75 306.5 248.00 306.2 248.25 305.5 248.50 305.5 248.75 305.8 249.00 306.0 249.25 305.3 249.50 304.6 249.75 305.2 250.00 304.9 250.25 305.6 250.50 303.6 250.75 304.8 251.00 304.0 251.25 302.7 251.50 302.5 251.75 301.0 252.00 300.3 252.25 298.6 252.50 297.5 252.75 295.7 253.00 293.8 253.25 292.2 253.50 290.4 253.75 288.9 254.00 287.9 254.25 287.4 254.50 287.7 254.75 288.6 255.00 289.7 255.25 291.4 255.50 292.7 255.75 293.9 256.00 294.5 256.25 294.9 256.50 295.8 256.75 296.1 257.00 296.4 257.25 295.9 257.50 295.2 257.75 293.7 258.00 292.4 258.25 290.1 258.50 287.9 258.75 284.9 259.00 281.8 259.25 277.6 259.50 273.8 259.75 271.1 260.00 269.4 260.25 269.7 260.50 271.8 260.75 275.1 261.00 279.4 261.25 283.3 261.50 286.7 261.75 290.0 262.00 292.5 262.25 295.1 262.50 296.6 262.75 298.0 263.00 299.3 263.25 300.4 263.50 301.6 263.75 301.8 264.00 302.9 264.25 303.6 264.50 305.0 264.75 304.7 265.00 303.3 265.25 304.8 265.50 305.1 265.75 305.7 266.00 306.4 266.25 306.3 266.50 305.1 266.75 306.4 267.00 306.4 267.25 306.7 267.50 307.2 267.75 306.2 268.00 307.3 268.25 306.1 268.50 307.0 268.75 307.2 269.00 308.1 269.25 306.8 269.50 306.4 269.75 307.5 270.00 306.9 270.25 307.9 270.50 306.9 270.75 306.9 271.00 307.8 271.25 307.3 271.50 307.7 271.75 306.7 272.00 308.0 272.25 307.0 272.50 307.6 272.75 306.8 273.00 306.5 273.25 307.1 273.50 307.2 273.75 307.8 274.00 307.2 274.25 307.4 274.50 307.3 274.75 308.3 275.00 306.4 275.25 307.3 275.50 306.6 275.75 306.6 276.00 306.1 276.25 306.7 276.50 305.4 276.75 305.1 277.00 305.3 277.25 304.6 277.50 305.0 277.75 304.8 278.00 303.6 278.25 303.9 278.50 302.9 278.75 302.9 279.00 302.6 279.25 303.0 279.50 301.6 279.75 300.4 280.00 299.4 280.25 299.0 280.50 296.0 280.75 294.2 281.00 291.2 281.25 286.8 281.50 282.7 281.75 277.3 282.00 270.3 282.25 262.4 282.50 254.4 282.75 246.4 283.00 239.7 283.25 235.5 283.50 235.1 283.75 238.5 284.00 244.8 284.25 252.8 284.50 261.0 284.75 268.7 285.00 275.5 285.25 281.7 285.50 286.4 285.75 290.5 286.00 293.9 286.25 296.8 286.50 298.9 286.75 299.6 287.00 301.4 287.25 302.5 287.50 302.9 287.75 302.8 288.00 303.1 288.25 304.9 288.50 305.3 288.75 305.4 289.00 305.1 289.25 306.5 289.50 306.6 289.75 306.2 290.00 306.3 290.25 305.7 290.50 307.1 290.75 306.1 291.00 307.3 291.25 307.4 291.50 307.3 291.75 308.0 292.00 307.2 292.25 307.7 292.50 307.9 292.75 307.7 293.00 307.5 293.25 308.3 293.50 308.0 293.75 307.8 294.00 307.8 294.25 308.0 294.50 309.0 294.75 308.1 295.00 307.9 295.25 307.6 295.50 307.6 295.75 307.3 296.00 308.3 296.25 308.2 296.50 307.8 296.75 307.6 297.00 308.1 297.25 308.1 297.50 307.7 297.75 308.5 298.00 308.4 298.25 308.3 298.50 308.7 298.75 308.1 299.00 309.0 299.25 308.0 299.50 308.7 299.75 308.7 300.00 308.4 300.25 308.6 300.50 307.9 300.75 307.8 301.00 308.4 301.25 308.2 301.50 308.8 301.75 308.6 302.00 308.8 302.25 308.7 302.50 308.7 302.75 308.6 303.00 308.4 303.25 308.4 303.50 309.5 303.75 307.8 304.00 308.5 304.25 309.1 304.50 308.8 304.75 309.3 305.00 308.9 305.25 308.1 305.50 308.5 305.75 308.0 306.00 309.1 306.25 309.3 306.50 308.5 306.75 308.9 307.00 308.5 307.25 308.0 307.50 308.5 307.75 308.0 308.00 308.5 308.25 308.8 308.50 309.0 308.75 309.3 309.00 308.6 309.25 308.8 309.50 308.9 309.75 309.0 310.00 307.4 310.25 308.4 310.50 309.1 310.75 308.2 311.00 308.9 311.25 309.1 311.50 307.9 311.75 308.7 312.00 308.9 312.25 308.8 312.50 308.1 312.75 308.9 313.00 308.5 313.25 309.1 313.50 309.0 313.75 308.5 314.00 308.8 314.25 308.5 314.50 308.5 314.75 308.1 315.00 308.7 315.25 309.1 315.50 308.8 315.75 308.8 316.00 308.5 316.25 308.5 316.50 309.1 316.75 308.1 317.00 309.7 317.25 308.7 317.50 309.8 317.75 309.3 318.00 308.6 318.25 309.1 318.50 308.9 318.75 309.0 319.00 309.1 319.25 308.5 319.50 308.5 319.75 308.6 320.00 308.2 320.25 308.7 320.50 308.9 320.75 308.9 321.00 308.9 321.25 308.6 321.50 309.1 321.75 307.9 322.00 308.6 322.25 308.6 322.50 309.2 322.75 309.1 323.00 309.1 323.25 308.8 323.50 309.2 323.75 308.3 324.00 308.8 324.25 307.8 324.50 309.5 324.75 309.5 325.00 308.5 325.25 308.4 325.50 307.8 325.75 308.1 326.00 308.8 326.25 308.7 326.50 308.1 326.75 308.5 327.00 308.4 327.25 309.0 327.50 309.1 327.75 308.6 328.00 308.8 328.25 308.7 328.50 307.8 328.75 308.8 329.00 308.7 329.25 309.1 329.50 307.9 329.75 309.1 330.00 308.4 330.25 308.8 330.50 309.2 330.75 308.0 331.00 308.1 331.25 309.1 331.50 308.1 331.75 308.2 332.00 308.9 332.25 308.5 332.50 309.0 332.75 308.7 333.00 308.6 333.25 309.0 333.50 309.5 333.75 308.5 334.00 309.1 334.25 308.9 334.50 308.4 334.75 308.5 335.00 307.8 335.25 307.9 335.50 308.2 335.75 307.9 336.00 308.4 336.25 307.0 336.50 307.3 336.75 306.8 337.00 306.7 337.25 306.9 337.50 305.5 337.75 305.9 338.00 304.8 338.25 304.5 338.50 304.7 338.75 303.8 339.00 304.1 339.25 304.0 339.50 304.1 339.75 304.4 340.00 304.3 340.25 305.2 340.50 306.1 340.75 306.5 341.00 306.1 341.25 307.6 341.50 307.7 341.75 307.0 342.00 307.4 342.25 308.2 342.50 307.3 342.75 307.9 343.00 308.3 343.25 308.3 343.50 308.4 343.75 308.6 344.00 308.1 344.25 308.3 344.50 309.5 344.75 307.9 345.00 308.4 345.25 308.7 345.50 308.3 345.75 309.2 346.00 308.7 346.25 309.0 346.50 307.5 346.75 309.2 347.00 309.2 347.25 308.4 347.50 309.3 347.75 308.8 348.00 309.2 348.25 309.6 348.50 308.8 348.75 308.3 349.00 308.8 349.25 308.2 349.50 308.4 349.75 308.4 350.00 308.5 350.25 309.3 350.50 309.2 350.75 308.4 351.00 309.3 351.25 308.0 351.50 308.5 351.75 308.7 352.00 309.3 352.25 309.1 352.50 309.0 352.75 309.4 353.00 309.1 353.25 309.4 353.50 308.5 353.75 308.1 354.00 308.6 354.25 309.2 354.50 308.9 354.75 309.2 355.00 309.1 355.25 309.1 355.50 309.2 355.75 308.5 356.00 309.3 356.25 308.4 356.50 308.8 356.75 308.2 357.00 309.0 357.25 308.1 357.50 309.5 357.75 308.2 358.00 308.9 358.25 308.8 358.50 308.4 358.75 309.4 359.00 308.6 359.25 309.5 359.50 308.4 359.75 308.5 360.00 307.9 360.25 309.1 360.50 309.2 360.75 308.9 361.00 308.7 361.25 308.4 361.50 309.9 361.75 309.1 362.00 308.0 362.25 308.7 362.50 307.6 362.75 309.5 363.00 309.7 363.25 309.5 363.50 308.8 363.75 308.5 364.00 308.2 364.25 309.0 364.50 308.4 364.75 308.6 365.00 308.5 365.25 308.6 365.50 309.2 365.75 309.5 366.00 308.8 366.25 308.8 366.50 308.3 366.75 308.2 367.00 308.3 367.25 309.1 367.50 308.9 367.75 309.2 368.00 308.9 368.25 308.5 368.50 308.2 368.75 308.5 369.00 308.1 369.25 309.6 369.50 308.8 369.75 308.5 370.00 309.6 370.25 308.5 370.50 308.9 370.75 308.6 371.00 308.8 371.25 308.5 371.50 308.8 371.75 309.2 372.00 308.0 372.25 307.6 372.50 309.2 372.75 308.6 373.00 308.9 373.25 308.4 373.50 309.2 373.75 309.3 374.00 307.9 374.25 308.7 374.50 308.1 374.75 307.6 375.00 308.2 375.25 308.6 375.50 307.6 375.75 307.6 376.00 308.7 376.25 308.1 376.50 308.2 376.75 307.5 377.00 307.6 377.25 307.9 377.50 307.8 377.75 307.7 378.00 308.2 378.25 307.4 378.50 306.4 378.75 306.4 379.00 306.4 379.25 306.6 379.50 305.2 379.75 304.7 380.00 304.1 380.25 302.9 380.50 301.9 380.75 301.0 381.00 300.2 381.25 298.5 381.50 296.8 381.75 295.4 382.00 293.4 382.25 292.2 382.50 290.7 382.75 289.4 383.00 288.4 383.25 288.1 383.50 287.7 383.75 288.3 384.00 289.1 384.25 290.4 384.50 291.5 384.75 293.4 385.00 294.9 385.25 296.5 385.50 298.4 385.75 300.0 386.00 301.0 386.25 301.9 386.50 302.0 386.75 304.6 387.00 304.6 387.25 304.5 387.50 306.0 387.75 307.0 388.00 306.6 388.25 306.5 388.50 308.2 388.75 307.7 389.00 307.7 389.25 308.2 389.50 306.8 389.75 307.9 390.00 307.9 390.25 309.1 390.50 307.8 390.75 307.9 391.00 307.5 391.25 307.8 391.50 308.2 391.75 308.4 392.00 308.2 392.25 309.3 392.50 308.6 392.75 308.7 393.00 309.1 393.25 308.7 393.50 308.2 393.75 307.8 394.00 308.7 394.25 308.2 394.50 309.1 394.75 308.2 395.00 307.6 395.25 308.6 395.50 309.1 395.75 308.5 396.00 308.7 396.25 308.7 396.50 309.4 396.75 308.8 397.00 308.6 397.25 308.4 397.50 307.9 397.75 309.3 398.00 309.2 398.25 308.3 398.50 309.0 398.75 308.8 399.00 308.5 399.25 308.6 399.50 309.1 399.75 308.2 400.00 308.5 400.25 308.7 400.50 308.7 400.75 308.6 401.00 308.8 401.25 309.0 401.50 308.3 401.75 308.8 402.00 308.5 402.25 309.4 402.50 308.1 402.75 308.6 403.00 309.1 403.25 308.6 403.50 308.6 403.75 308.5 404.00 308.9 404.25 308.2 404.50 308.7 404.75 308.7 405.00 308.1 405.25 308.9 405.50 308.6 405.75 308.9 406.00 309.2 406.25 308.9 406.50 308.2 406.75 308.9 407.00 308.1 407.25 308.4 407.50 309.6 407.75 308.8 408.00 309.5 408.25 308.7 408.50 308.8 408.75 308.3 409.00 309.2 409.25 308.7 409.50 309.1 409.75 309.0 410.00 309.0 410.25 309.0 410.50 308.8 410.75 308.8 411.00 308.5 411.25 307.8 411.50 309.0 411.75 309.8 412.00 309.3 412.25 309.9 412.50 309.0 412.75 308.4 413.00 308.4 413.25 309.2 413.50 309.0 413.75 308.7 414.00 309.2 414.25 308.4 414.50 309.1 414.75 308.7 415.00 308.9 415.25 309.4 415.50 308.8 415.75 309.4 416.00 309.4 416.25 308.5 416.50 309.9 416.75 308.3 417.00 308.8 417.25 309.1 417.50 307.8 417.75 309.3 418.00 309.3 418.25 308.8 418.50 308.9 418.75 308.9 419.00 308.7 419.25 309.3 419.50 308.6 419.75 308.8 420.00 309.0 420.25 309.2 420.50 309.3 420.75 308.1 421.00 307.9 421.25 308.7 421.50 308.8 421.75 308.3 422.00 308.9 422.25 309.1 422.50 308.9 422.75 309.5 423.00 308.3 423.25 308.8 423.50 309.6 423.75 309.1 424.00 308.2 424.25 308.8 424.50 309.3 424.75 309.7 425.00 309.0 425.25 309.3 425.50 308.2 425.75 308.6 426.00 309.2 426.25 308.3 426.50 308.7 426.75 307.8 427.00 309.4 427.25 308.6 427.50 308.9 427.75 308.0 428.00 308.0 428.25 309.5 428.50 308.5 428.75 308.4 429.00 308.8 429.25 308.9 429.50 307.7 429.75 308.1 430.00 308.6 430.25 308.6 430.50 308.7 430.75 308.3 431.00 308.4 431.25 308.6 431.50 308.2 431.75 308.1 432.00 308.2 432.25 308.5 432.50 308.4 432.75 308.2 433.00 308.3 433.25 308.3 433.50 308.5 433.75 308.5 434.00 307.7 434.25 308.7 434.50 307.5 434.75 308.5 435.00 307.9 435.25 308.4 435.50 308.6 435.75 307.2 436.00 308.3 436.25 308.1 436.50 307.7 436.75 308.0 437.00 307.6 437.25 307.8 437.50 307.2 437.75 308.0 438.00 307.8 438.25 307.8 438.50 307.0 438.75 308.0 439.00 308.0 439.25 306.9 439.50 306.6 439.75 306.4 440.00 306.7 440.25 306.7 440.50 305.6 440.75 304.7 441.00 305.5 441.25 304.9 441.50 304.5 441.75 304.1 442.00 302.6 442.25 302.2 442.50 300.8 442.75 299.6 443.00 297.9 443.25 295.0 443.50 291.7 443.75 288.7 444.00 284.2 444.25 279.1 444.50 273.6 444.75 268.5 445.00 263.9 445.25 260.6 445.50 259.3 445.75 260.5 446.00 263.8 446.25 268.5 446.50 273.9 446.75 279.0 447.00 284.0 447.25 288.4 447.50 292.2 447.75 294.6 448.00 297.1 448.25 298.6 448.50 300.1 448.75 302.0 449.00 302.5 449.25 302.6 449.50 304.3 449.75 304.1 450.00 304.7 450.25 305.4 450.50 305.6 450.75 305.6 451.00 304.9 451.25 306.2 451.50 305.8 451.75 305.5 452.00 305.2 452.25 306.9 452.50 306.4 452.75 306.3 453.00 306.5 453.25 306.2 453.50 305.5 453.75 306.3 454.00 306.3 454.25 305.9 454.50 306.2 454.75 306.1 455.00 304.5 455.25 304.4 455.50 304.6 455.75 303.8 456.00 303.4 456.25 303.2 456.50 302.6 456.75 301.5 457.00 301.3 457.25 300.4 457.50 300.2 457.75 299.5 458.00 298.9 458.25 299.6 458.50 299.6 458.75 300.6 459.00 301.2 459.25 301.0 459.50 301.7 459.75 301.8 460.00 302.2 460.25 303.0 460.50 303.5 460.75 304.3 461.00 304.6 461.25 305.7 461.50 305.3 461.75 304.9 462.00 306.0 462.25 305.9 462.50 306.5 462.75 307.1 463.00 306.4 463.25 306.8 463.50 307.2 463.75 306.6 464.00 307.2 464.25 307.4 464.50 307.5 464.75 307.7 465.00 307.4 465.25 307.4 465.50 306.5 465.75 305.9 466.00 306.6 466.25 307.6 466.50 306.9 466.75 305.7 467.00 306.4 467.25 306.6 467.50 305.4 467.75 306.2 468.00 305.2 468.25 305.8 468.50 305.0 468.75 305.9 469.00 303.5 469.25 303.7 469.50 302.3 469.75 302.9 470.00 301.8 470.25 301.6 470.50 300.6 470.75 299.5 471.00 299.2 471.25 298.6 471.50 298.5 471.75 299.0 472.00 299.5 472.25 299.7 472.50 300.0 472.75 300.0 473.00 301.1 473.25 301.1 473.50 302.3 473.75 303.2 474.00 303.3 474.25 303.8 474.50 304.3 474.75 305.2 475.00 305.3 475.25 305.1 475.50 305.9 475.75 305.9 476.00 307.4 476.25 306.9 476.50 306.4 476.75 307.4 477.00 307.7 477.25 307.7 477.50 307.5 477.75 307.8 478.00 308.0 478.25 308.4 478.50 308.2 478.75 309.1 479.00 308.0 479.25 308.8 479.50 308.2 479.75 307.5 480.00 307.7 480.25 307.5 480.50 307.6 480.75 308.9 481.00 308.1 481.25 308.7 481.50 308.0 481.75 308.5 482.00 308.0 482.25 308.9 482.50 308.4 482.75 308.3 483.00 308.5 483.25 309.5 483.50 308.8 483.75 309.0 484.00 308.1 484.25 308.3 484.50 308.8 484.75 307.8 485.00 309.3 485.25 308.8 485.50 308.7 485.75 308.6 486.00 308.6 486.25 308.5 486.50 309.3 486.75 309.0 487.00 309.3 487.25 308.6 487.50 308.3 487.75 309.3 488.00 308.2 488.25 308.5 488.50 309.1 488.75 309.2 489.00 308.2 489.25 308.6 489.50 308.8 489.75 308.7 490.00 308.4 490.25 309.1 490.50 308.6 490.75 308.7 491.00 307.8 491.25 308.8 491.50 307.9 491.75 309.1 492.00 309.0 492.25 308.6 492.50 308.9 492.75 308.9 493.00 308.8 493.25 309.0 493.50 308.8 493.75 308.6 494.00 308.5 494.25 309.6 494.50 308.9 494.75 308.8 495.00 309.2 495.25 308.7 495.50 308.7 495.75 309.2 496.00 309.3 496.25 309.2 496.50 308.2 496.75 308.9 497.00 308.9 497.25 309.1 497.50 308.5 497.75 308.4 498.00 308.8 498.25 308.5 498.50 308.4 498.75 308.8 499.00 309.3 499.25 308.9 499.50 309.4 499.75 308.4 500.00 309.2 500.25 308.9 500.50 308.5 500.75 308.7 501.00 308.5 501.25 308.8 501.50 308.6 501.75 309.5 502.00 308.7 502.25 308.3 502.50 308.8 502.75 309.1 503.00 308.8 503.25 309.3 503.50 308.5 503.75 308.5 504.00 309.6 504.25 308.9 504.50 309.1 504.75 309.1 505.00 309.2 505.25 308.9 505.50 308.8 505.75 309.4 506.00 308.7 506.25 309.0 506.50 309.2 506.75 308.7 507.00 308.2 507.25 309.1 507.50 309.4 507.75 309.0 508.00 308.2 508.25 309.2 508.50 309.8 508.75 308.2 509.00 307.7 509.25 308.8 509.50 309.0 509.75 309.3 510.00 309.3 510.25 309.0 510.50 309.2 510.75 309.1 511.00 309.0 511.25 308.9 511.50 308.9 511.75 309.2 512.00 309.1 512.25 308.7 512.50 309.4 512.75 308.6 513.00 308.8 513.25 309.0 513.50 308.1 513.75 308.8 514.00 309.3 514.25 309.3 514.50 308.4 514.75 308.6 515.00 308.5 515.25 308.8 515.50 308.9 515.75 308.2 516.00 309.1 516.25 309.0 516.50 308.9 516.75 308.6 517.00 308.9 517.25 308.2 517.50 309.0 517.75 309.0 518.00 308.9 518.25 308.4 518.50 309.5 518.75 309.4 519.00 308.1 519.25 309.1 519.50 309.0 519.75 307.8 520.00 309.2 520.25 309.2 520.50 309.3 520.75 309.0 521.00 308.7 521.25 308.7 521.50 309.2 521.75 309.5 522.00 308.7 522.25 308.8 522.50 309.3 522.75 308.0 523.00 309.2 523.25 308.9 523.50 308.0 523.75 309.3 524.00 308.6 524.25 309.3 524.50 309.6 524.75 308.4 525.00 308.4 525.25 309.0 525.50 308.2 525.75 309.3 526.00 309.0 526.25 309.4 526.50 308.2 526.75 309.1 527.00 309.2 527.25 308.2 527.50 309.4 527.75 308.4 528.00 309.0 528.25 308.4 528.50 309.3 528.75 309.7 529.00 309.0 529.25 309.0 529.50 309.5 529.75 308.8 530.00 309.0 530.25 309.3 530.50 309.2 530.75 309.7 531.00 309.5 531.25 309.8 531.50 309.0 531.75 309.5 532.00 308.6 532.25 309.4 532.50 309.8 532.75 310.0 533.00 308.4 533.25 308.9 533.50 309.3 533.75 308.6 534.00 309.2 534.25 309.2 534.50 308.8 534.75 308.8 535.00 308.6 535.25 309.1 535.50 309.6 535.75 309.1 536.00 310.2 536.25 308.4 536.50 308.8"/>
<path stroke="#ff0000" d="M31.00 168.40L31.25 168.6 31.50 168.4 31.75 167.7 32.00 168.6 32.25 168.4 32.50 168.0 32.75 168.5 33.00 168.4 33.25 168.4 33.50 168.3 33.75 168.5 34.00 167.9 34.25 168.2 34.50 168.0 34.75 168.5 35.00 168.3 35.25 168.1 35.50 167.9 35.75 168.1 36.00 168.2 36.25 168.1 36.50 168.8 36.75 168.7 37.00 167.0 37.25 167.4 37.50 168.2 37.75 168.0 38.00 168.3 38.25 168.3 38.50 169.2 38.75 167.7 39.00 168.1 39.25 169.1 39.50 168.5 39.75 168.5 40.00 168.0 40.25 167.5 40.50 168.3 40.75 168.3 41.00 167.7 41.25 167.9 41.50 168.2 41.75 167.8 42.00 168.2 42.25 168.3 42.50 168.2 42.75 168.0 43.00 168.5 43.25 168.6 43.50 168.4 43.75 167.8 44.00 168.5 44.25 168.0 44.50 168.6 44.75 167.7 45.00 168.6 45.25 168.2 45.50 167.6 45.75 168.1 46.00 168.2 46.25 168.3 46.50 167.8 46.75 167.7 47.00 168.3 47.25 168.0 47.50 168.3 47.75 168.5 48.00 167.5 48.25 168.3 48.50 168.7 48.75 168.1 49.00 167.8 49.25 168.5 49.50 168.3 49.75 168.6 50.00 168.0 50.25 167.5 50.50 168.1 50.75 168.0 51.00 168.5 51.25 168.3 51.50 167.5 51.75 167.6 52.00 168.6 52.25 168.5 52.50 167.9 52.75 168.2 53.00 168.4 53.25 168.4 53.50 168.6 53.75 168.3 54.00 168.1 54.25 168.1 54.50 168.6 54.75 167.2 55.00 168.1 55.25 168.2 55.50 167.5 55.75 168.3 56.00 167.9 56.25 168.5 56.50 168.1 56.75 168.5 57.00 168.7 57.25 168.3 57.50 167.8 57.75 167.5 58.00 168.9 58.25 168.1 58.50 167.8 58.75 168.2 59.00 168.0 59.25 168.5 59.50 168.1 59.75 168.1 60.00 167.8 60.25 168.3 60.50 167.7 60.75 168.4 61.00 168.8 61.25 167.4 61.50 167.0 61.75 168.4 62.00 169.3 62.25 167.7 62.50 167.5 62.75 168.4 63.00 167.7 63.25 167.9 63.50 167.9 63.75 168.3 64.00 167.9 64.25 168.2 64.50 168.0 64.75 167.7 65.00 167.9 65.25 167.6 65.50 168.1 65.75 167.6 66.00 167.6 66.25 168.7 66.50 168.0 66.75 168.0 67.00 168.3 67.25 167.8 67.50 167.9 67.75 168.2 68.00 168.1 68.25 167.5 68.50 168.4 68.75 167.7 69.00 167.5 69.25 167.6 69.50 167.8 69.75 168.7 70.00 167.4 70.25 168.0 70.50 167.0 70.75 168.0 71.00 168.4 71.25 167.8 71.50 167.6 71.75 168.0 72.00 168.2 72.25 168.2 72.50 168.8 72.75 168.0 73.00 167.6 73.25 167.8 73.50 167.8 73.75 167.9 74.00 167.8 74.25 167.9 74.50 167.1 74.75 168.2 75.00 167.5 75.25 167.3 75.50 168.1 75.75 168.4 76.00 168.0 76.25 167.8 76.50 167.3 76.75 169.0 77.00 168.1 77.25 167.2 77.50 167.3 77.75 167.7 78.00 166.9 78.25 167.7 78.50 167.4 78.75 168.1 79.00 168.0 79.25 166.3 79.50 167.5 79.75 166.7 80.00 167.9 80.25 167.5 80.50 167.6 80.75 166.9 81.00 168.1 81.25 168.2 81.50 166.8 81.75 167.4 82.00 166.9 82.25 167.1 82.50 166.5 82.75 167.9 83.00 166.6 83.25 166.8 83.50 167.1 83.75 166.6 84.00 166.7 84.25 166.5 84.50 166.6 84.75 166.0 85.00 166.3 85.25 166.3 85.50 166.2 85.75 166.3 86.00 166.0 86.25 166.3 86.50 165.7 86.75 165.7 87.00 165.3 87.25 165.2 87.50 164.7 87.75 165.4 88.00 164.4 88.25 164.4 88.50 164.6 88.75 164.4 89.00 163.7 89.25 162.7 89.50 163.4 89.75 163.0 90.00 161.8 90.25 162.2 90.50 161.0 90.75 160.1 91.00 159.8 91.25 158.7 91.50 157.7 91.75 155.4 92.00 155.0 92.25 151.4 92.50 147.8 92.75 144.7 93.00 139.1 93.25 132.9 93.50 124.7 93.75 115.2 94.00 104.2 94.25 91.4 94.50 78.0 94.75 63.6 95.00 49.8 95.25 37.8 95.50 29.2 95.75 25.3 96.00 26.9 96.25 33.9 96.50 44.6 96.75 57.9 97.00 72.2 97.25 85.9 97.50 99.3 97.75 111.0 98.00 121.5 98.25 129.4 98.50 136.6 98.75 142.7 99.00 145.9 99.25 151.9 99.50 152.9 99.75 155.1 100.00 157.4 100.25 158.3 100.50 158.6 100.75 160.6 101.00 161.4 101.25 161.4 101.50 162.1 101.75 162.9 102.00 162.7 102.25 163.7 102.50 163.9 102.75 163.8 103.00 163.7 103.25 164.5 103.50 164.4 103.75 165.5 104.00 165.3 104.25 165.8 104.50 165.6 104.75 165.8 105.00 165.5 105.25 166.3 105.50 166.9 105.75 166.0 106.00 166.0 106.25 166.3 106.50 166.2 106.75 166.2 107.00 166.7 107.25 166.6 107.50 167.4 107.75 166.8 108.00 167.0 108.25 167.4 108.50 166.8 108.75 167.7 109.00 166.8 109.25 166.8 109.50 167.0 109.75 167.2 110.00 166.6 110.25 167.3 110.50 166.6 110.75 168.0 111.00 167.3 111.25 167.1 111.50 167.0 111.75 167.3 112.00 167.4 112.25 167.0 112.50 167.1 112.75 167.5 113.00 167.3 113.25 168.0 113.50 168.1 113.75 167.6 114.00 167.9 114.25 167.1 114.50 168.0 114.75 167.7 115.00 167.9 115.25 168.4 115.50 166.7 115.75 167.9 116.00 167.3 116.25 168.0 116.50 167.2 116.75 167.6 117.00 167.9 117.25 168.1 117.50 167.9 117.75 167.5 118.00 167.6 118.25 168.3 118.50 167.9 118.75 167.1 119.00 168.3 119.25 168.1 119.50 168.3 119.75 167.8 120.00 168.3 120.25 167.5 120.50 168.2 120.75 167.7 121.00 168.3 121.25 168.4 121.50 167.6 121.75 167.9 122.00 168.0 122.25 168.5 122.50 168.3 122.75 167.4 123.00 168.2 123.25 168.3 123.50 169.0 123.75 167.3 124.00 167.8 124.25 168.6 124.50 167.4 124.75 167.5 125.00 168.3 125.25 168.5 125.50 167.7 125.75 168.3 126.00 168.1 126.25 168.7 126.50 168.1 126.75 168.5 127.00 167.7 127.25 168.0 127.50 168.0 127.75 168.6 128.00 168.3 128.25 167.7 128.50 168.4 128.75 168.4 129.00 168.0 129.25 168.0 129.50 168.0 129.75 167.3 130.00 168.2 130.25 168.2 130.50 167.7 130.75 168.4 131.00 167.5 131.25 167.9 131.50 167.9 131.75 169.0 132.00 167.4 132.25 168.4 132.50 168.5 132.75 168.3 133.00 168.7 133.25 167.7 133.50 167.1 133.75 168.5 134.00 167.6 134.25 168.0 134.50 167.6 134.75 168.6 135.00 168.5 135.25 167.8 135.50 168.6 135.75 168.2 136.00 168.1 136.25 168.2 136.50 168.1 136.75 168.4 137.00 168.3 137.25 168.0 137.50 168.6 137.75 167.9 138.00 168.3 138.25 168.4 138.50 168.8 138.75 167.9 139.00 169.0 139.25 168.2 139.50 168.1 139.75 167.9 140.00 168.4 140.25 168.2 140.50 167.7 140.75 167.7 141.00 167.9 141.25 167.9 141.50 168.7 141.75 168.8 142.00 168.6 142.25 168.3 142.50 168.0 142.75 168.2 143.00 168.6 143.25 169.1 143.50 168.6 143.75 168.1 144.00 168.2 144.25 168.0 144.50 167.8 144.75 168.1 145.00 168.3 145.25 169.0 145.50 168.2 145.75 168.8 146.00 169.0 146.25 168.2 146.50 168.9 146.75 168.5 147.00 168.0 147.25 168.3 147.50 168.2 147.75 168.1 148.00 168.1 148.25 168.3 148.50 168.4 148.75 167.8 149.00 168.2 149.25 167.5 149.50 168.3 149.75 168.5 150.00 168.3 150.25 168.3 150.50 168.5 150.75 167.9 151.00 168.1 151.25 168.4 151.50 168.7 151.75 168.4 152.00 169.4 152.25 168.2 152.50 168.7 152.75 168.8 153.00 168.2 153.25 167.8 153.50 167.7 153.75 168.3 154.00 168.7 154.25 168.3 154.50 168.3 154.75 168.0 155.00 168.5 155.25 167.3 155.50 168.3 155.75 168.2 156.00 167.6 156.25 169.2 156.50 167.6 156.75 167.7 157.00 167.7 157.25 168.7 157.50 167.8 157.75 168.5 158.00 168.5 158.25 168.3 158.50 167.6 158.75 167.9 159.00 169.0 159.25 167.6 159.50 167.8 159.75 168.1 160.00 168.6 160.25 168.3 160.50 168.6 160.75 167.7 161.00 168.6 161.25 168.5 161.50 167.5 161.75 168.9 162.00 169.3 162.25 167.9 162.50 168.3 162.75 168.9 163.00 167.6 163.25 167.3 163.50 167.6 163.75 168.0 164.00 168.0 164.25 168.5 164.50 168.3 164.75 167.7 165.00 168.5 165.25 169.1 165.50 168.8 165.75 168.7 166.00 168.2 166.25 168.7 166.50 167.8 166.75 168.6 167.00 168.2 167.25 168.7 167.50 168.4 167.75 167.7 168.00 168.3 168.25 168.8 168.50 167.7 168.75 168.0 169.00 167.9 169.25 167.6 169.50 168.7 169.75 168.8 170.00 168.6 170.25 168.3 170.50 168.2 170.75 168.3 171.00 167.9 171.25 168.6 171.50 168.7 171.75 168.7 172.00 168.0 172.25 168.3 172.50 168.2 172.75 169.0 173.00 168.3 173.25 167.4 173.50 168.4 173.75 169.1 174.00 168.5 174.25 168.6 174.50 168.2 174.75 167.3 175.00 167.4 175.25 167.7 175.50 168.2 175.75 168.4 176.00 168.5 176.25 168.1 176.50 168.7 176.75 168.1 177.00 167.9 177.25 168.6 177.50 167.8 177.75 167.0 178.00 167.8 178.25 168.3 178.50 166.8 178.75 168.1 179.00 168.1 179.25 167.6 179.50 167.6 179.75 168.0 180.00 168.0 180.25 168.8 180.50 168.4 180.75 167.5 181.00 167.8 181.25 168.5 181.50 169.1 181.75 168.4 182.00 168.4 182.25 169.1 182.50 168.2 182.75 168.1 183.00 167.6 183.25 168.0 183.50 169.2 183.75 167.6 184.00 168.2 184.25 167.6 184.50 168.3 184.75 168.6 185.00 168.1 185.25 168.6 185.50 168.6 185.75 168.4 186.00 169.0 186.25 168.6 186.50 168.1 186.75 167.9 187.00 167.8 187.25 168.4 187.50 168.1 187.75 169.5 188.00 169.1 188.25 168.1 188.50 168.1 188.75 169.0 189.00 167.4 189.25 168.0 189.50 168.6 189.75 167.8 190.00 168.0 190.25 168.1 190.50 168.5 190.75 168.3 191.00 168.4 191.25 168.5 191.50 168.2 191.75 168.7 192.00 167.9 192.25 167.6 192.50 167.4 192.75 167.5 193.00 168.0 193.25 168.7 193.50 168.3 193.75 167.9 194.00 167.7 194.25 168.0 194.50 168.0 194.75 168.0 195.00 167.6 195.25 168.0 195.50 168.7 195.75 167.2 196.00 168.1 196.25 167.3 196.50 168.3 196.75 167.9 197.00 167.3 197.25 168.2 197.50 169.0 197.75 168.3 198.00 168.7 198.25 168.2 198.50 167.2 198.75 168.4 199.00 168.0 199.25 167.5 199.50 168.5 199.75 168.3 200.00 168.0 200.25 168.6 200.50 167.8 200.75 168.5 201.00 167.8 201.25 168.4 201.50 167.7 201.75 168.9 202.00 168.3 202.25 168.8 202.50 167.8 202.75 168.0 203.00 168.6 203.25 166.9 203.50 167.7 203.75 168.6 204.00 168.4 204.25 168.6 204.50 168.0 204.75 168.4 205.00 167.8 205.25 167.5 205.50 167.4 205.75 167.9 206.00 167.9 206.25 167.9 206.50 166.5 206.75 167.2 207.00 167.9 207.25 168.3 207.50 167.9 207.75 167.7 208.00 167.1 208.25 169.0 208.50 167.6 208.75 168.9 209.00 168.8 209.25 168.2 209.50 167.8 209.75 168.1 210.00 167.6 210.25 168.2 210.50 168.1 210.75 168.3 211.00 168.5 211.25 168.8 211.50 167.8 211.75 168.5 212.00 167.6 212.25 167.6 212.50 167.7 212.75 167.5 213.00 168.4 213.25 168.3 213.50 168.4 213.75 167.8 214.00 167.9 214.25 167.5 214.50 167.2 214.75 167.9 215.00 167.7 215.25 167.0 215.50 167.7 215.75 166.6 216.00 167.1 216.25 166.8 216.50 166.6 216.75 166.0 217.00 166.6 217.25 165.9 217.50 165.6 217.75 164.4 218.00 163.0 218.25 162.4 218.50 161.1 218.75 160.9 219.00 160.5 219.25 159.8 219.50 159.5 219.75 160.2 220.00 161.3 220.25 161.5 220.50 163.2 220.75 164.1 221.00 164.6 221.25 165.2 221.50 166.0 221.75 166.0 222.00 166.3 222.25 167.3 222.50 167.2 222.75 168.0 223.00 166.9 223.25 166.6 223.50 167.9 223.75 168.0 224.00 167.3 224.25 167.0 224.50 167.7 224.75 166.9 225.00 167.6 225.25 166.8 225.50 167.7 225.75 166.9 226.00 167.7 226.25 168.5 226.50 167.7 226.75 168.2 227.00 167.6 227.25 167.5 227.50 167.2 227.75 168.4 228.00 167.9 228.25 168.6 228.50 167.4 228.75 167.8 229.00 167.9 229.25 168.5 229.50 168.7 229.75 167.6 230.00 167.4 230.25 167.1 230.50 168.5 230.75 167.9 231.00 167.6 231.25 167.9 231.50 166.7 231.75 167.1 232.00 168.3 232.25 168.0 232.50 167.9 232.75 167.4 233.00 168.1 233.25 168.6 233.50 167.3 233.75 167.8 234.00 167.6 234.25 168.0 234.50 167.8 234.75 167.7 235.00 167.4 235.25 167.7 235.50 167.4 235.75 167.6 236.00 167.7 236.25 168.0 236.50 167.4 236.75 167.5 237.00 168.1 237.25 167.5 237.50 167.4 237.75 167.9 238.00 167.6 238.25 167.4 238.50 167.4 238.75 166.7 239.00 167.4 239.25 167.7 239.50 167.2 239.75 166.2 240.00 166.9 240.25 166.2 240.50 166.3 240.75 166.3 241.00 165.5 241.25 166.4 241.50 165.5 241.75 165.7 242.00 165.3 242.25 165.4 242.50 165.0 242.75 163.6 243.00 164.0 243.25 162.8 243.50 163.5 243.75 163.9 244.00 164.0 244.25 164.2 244.50 163.6 244.75 164.1 245.00 164.2 245.25 164.9 245.50 165.3 245.75 164.7 246.00 166.7 246.25 165.2 246.50 165.2 246.75 165.8 247.00 166.0 247.25 166.0 247.50 165.6 247.75 166.6 248.00 166.0 248.25 166.6 248.50 166.6 248.75 165.3 249.00 165.4 249.25 165.3 249.50 165.7 249.75 165.5 250.00 165.4 250.25 164.7 250.50 165.0 250.75 165.1 251.00 163.4 251.25 163.4 251.50 162.9 251.75 161.8 252.00 160.7 252.25 159.9 252.50 158.1 252.75 155.9 253.00 153.3 253.25 151.3 253.50 148.5 253.75 146.0 254.00 144.2 254.25 143.3 254.50 143.7 254.75 144.7 255.00 146.6 255.25 148.5 255.50 151.1 255.75 152.8 256.00 154.4 256.25 156.2 256.50 156.7 256.75 157.9 257.00 158.3 257.25 156.8 257.50 157.0 257.75 155.3 258.00 154.4 258.25 152.6 258.50 149.0 258.75 146.2 259.00 141.2 259.25 135.7 259.50 130.0 259.75 123.9 260.00 117.7 260.25 113.0 260.50 110.3 260.75 110.9 261.00 114.0 261.25 119.2 261.50 125.6 261.75 131.7 262.00 137.8 262.25 143.6 262.50 147.6 262.75 151.8 263.00 154.5 263.25 156.5 263.50 158.5 263.75 160.1 264.00 161.0 264.25 161.7 264.50 162.4 264.75 162.7 265.00 163.9 265.25 164.4 265.50 164.9 265.75 164.0 266.00 165.5 266.25 165.3 266.50 164.9 266.75 165.8 267.00 166.2 267.25 166.2 267.50 166.5 267.75 166.7 268.00 166.7 268.25 166.4 268.50 165.6 268.75 166.3 269.00 166.8 269.25 166.5 269.50 167.1 269.75 167.2 270.00 166.9 270.25 167.8 270.50 166.5 270.75 167.4 271.00 166.8 271.25 166.7 271.50 167.3 271.75 166.8 272.00 167.5 272.25 166.6 272.50 167.1 272.75 166.7 273.00 167.0 273.25 167.0 273.50 166.6 273.75 167.4 274.00 166.5 274.25 166.7 274.50 167.5 274.75 167.5 275.00 167.3 275.25 167.2 275.50 168.0 275.75 166.4 276.00 166.6 276.25 166.4 276.50 167.2 276.75 166.9 277.00 167.2 277.25 167.0 277.50 166.4 277.75 166.0 278.00 165.8 278.25 167.1 278.50 166.4 278.75 166.0 279.00 165.4 279.25 165.2 279.50 164.8 279.75 164.4 280.00 163.0 280.25 163.5 280.50 162.5 280.75 161.9 281.00 160.5 281.25 159.2 281.50 156.9 281.75 154.7 282.00 150.9 282.25 148.0 282.50 144.8 282.75 140.5 283.00 137.0 283.25 134.2 283.50 132.6 283.75 132.9 284.00 134.6 284.25 137.6 284.50 141.3 284.75 145.0 285.00 148.9 285.25 152.1 285.50 155.1 285.75 157.0 286.00 160.2 286.25 160.8 286.50 162.0 286.75 163.2 287.00 163.6 287.25 164.1 287.50 164.8 287.75 165.6 288.00 165.8 288.25 166.2 288.50 165.7 288.75 165.8 289.00 167.2 289.25 166.4 289.50 166.8 289.75 167.1 290.00 167.5 290.25 166.3 290.50 166.8 290.75 166.9 291.00 167.0 291.25 166.1 291.50 167.2 291.75 166.0 292.00 167.5 292.25 167.7 292.50 167.7 292.75 167.0 293.00 168.0 293.25 167.2 293.50 167.1 293.75 167.2 294.00 167.3 294.25 167.8 294.50 168.1 294.75 166.8 295.00 167.5 295.25 168.2 295.50 167.9 295.75 168.0 296.00 167.1 296.25 168.3 296.50 167.1 296.75 168.0 297.00 168.5 297.25 168.7 297.50 168.1 297.75 168.3 298.00 167.7 298.25 167.7 298.50 168.5 298.75 168.0 299.00 167.9 299.25 167.3 299.50 168.0 299.75 168.3 300.00 167.6 300.25 167.8 300.50 168.7 300.75 168.1 301.00 167.9 301.25 167.5 301.50 167.8 301.75 167.9 302.00 168.7 302.25 167.8 302.50 168.9 302.75 167.6 303.00 167.9 303.25 168.4 303.50 168.0 303.75 167.7 304.00 168.0 304.25 168.3 304.50 167.3 304.75 168.0 305.00 168.0 305.25 167.9 305.50 168.4 305.75 167.8 306.00 167.9 306.25 168.1 306.50 168.4 306.75 168.0 307.00 168.8 307.25 167.7 307.50 168.7 307.75 167.7 308.00 168.1 308.25 168.3 308.50 169.1 308.75 168.5 309.00 168.0 309.25 168.7 309.50 168.0 309.75 167.8 310.00 168.3 310.25 168.2 310.50 168.6 310.75 167.9 311.00 168.3 311.25 168.4 311.50 168.3 311.75 168.1 312.00 167.8 312.25 168.6 312.50 168.2 312.75 168.4 313.00 168.0 313.25 168.2 313.50 167.7 313.75 168.2 314.00 168.5 314.25 168.2 314.50 168.6 314.75 168.3 315.00 168.8 315.25 168.1 315.50 167.4 315.75 168.4 316.00 168.1 316.25 167.7 316.50 168.5 316.75 168.3 317.00 168.4 317.25 168.0 317.50 168.3 317.75 168.3 318.00 169.0 318.25 167.9 318.50 168.2 318.75 168.3 319.00 167.4 319.25 167.5 319.50 169.2 319.75 167.4 320.00 168.4 320.25 167.8 320.50 167.8 320.75 167.3 321.00 167.8 321.25 168.5 321.50 167.6 321.75 168.5 322.00 168.3 322.25 169.1 322.50 168.0 322.75 168.8 323.00 168.6 323.25 168.1 323.50 167.4 323.75 168.9 324.00 167.6 324.25 168.0 324.50 168.6 324.75 168.7 325.00 167.8 325.25 168.2 325.50 168.1 325.75 168.7 326.00 169.3 326.25 167.4 326.50 168.6 326.75 166.9 327.00 168.2 327.25 167.7 327.50 169.1 327.75 168.2 328.00 167.8 328.25 167.9 328.50 167.9 328.75 168.3 329.00 168.1 329.25 168.5 329.50 168.9 329.75 168.5 330.00 167.6 330.25 167.4 330.50 167.8 330.75 168.6 331.00 168.0 331.25 167.8 331.50 168.2 331.75 167.5 332.00 167.6 332.25 168.3 332.50 168.0 332.75 167.9 333.00 168.2 333.25 167.8 333.50 167.7 333.75 167.8 334.00 168.3 334.25 168.0 334.50 167.4 334.75 167.8 335.00 168.2 335.25 168.7 335.50 167.3 335.75 167.9 336.00 167.5 336.25 167.9 336.50 167.7 336.75 168.0 337.00 167.4 337.25 166.8 337.50 166.7 337.75 167.0 338.00 166.8 338.25 167.6 338.50 167.2 338.75 165.9 339.00 166.6 339.25 165.9 339.50 165.8 339.75 167.0 340.00 167.1 340.25 166.5 340.50 167.9 340.75 166.8 341.00 166.9 341.25 167.8 341.50 167.7 341.75 167.6 342.00 167.7 342.25 167.9 342.50 167.8 342.75 167.8 343.00 167.1 343.25 167.4 343.50 168.3 343.75 167.7 344.00 168.3 344.25 168.6 344.50 167.9 344.75 168.2 345.00 169.0 345.25 168.4 345.50 168.9 345.75 168.8 346.00 168.5 346.25 168.1 346.50 167.8 346.75 167.6 347.00 168.4 347.25 168.4 347.50 168.1 347.75 168.5 348.00 167.9 348.25 168.7 348.50 168.2 348.75 168.1 349.00 168.2 349.25 168.1 349.50 169.3 349.75 167.4 350.00 168.3 350.25 168.7 350.50 168.5 350.75 168.0 351.00 169.0 351.25 167.7 351.50 167.6 351.75 168.4 352.00 167.5 352.25 167.1 352.50 168.6 352.75 168.5 353.00 168.5 353.25 168.0 353.50 168.3 353.75 167.7 354.00 169.0 354.25 168.5 354.50 168.5 354.75 167.3 355.00 168.5 355.25 168.8 355.50 168.7 355.75 168.5 356.00 168.2 356.25 168.0 356.50 168.4 356.75 168.3 357.00 168.3 357.25 168.0 357.50 168.9 357.75 167.6 358.00 168.2 358.25 167.9 358.50 168.6 358.75 168.8 359.00 168.7 359.25 168.5 359.50 167.5 359.75 169.1 360.00 168.4 360.25 168.1 360.50 168.2 360.75 168.0 361.00 168.3 361.25 168.3 361.50 168.0 361.75 167.0 362.00 168.1 362.25 168.4 362.50 168.4 362.75 168.1 363.00 168.3 363.25 168.6 363.50 167.9 363.75 168.8 364.00 167.2 364.25 167.6 364.50 167.7 364.75 167.0 365.00 167.7 365.25 168.7 365.50 168.7 365.75 168.1 366.00 168.9 366.25 168.2 366.50 167.9 366.75 168.2 367.00 168.0 367.25 168.4 367.50 167.4 367.75 168.5 368.00 167.9 368.25 168.4 368.50 167.4 368.75 167.8 369.00 168.1 369.25 168.4 369.50 167.5 369.75 168.8 370.00 168.2 370.25 167.8 370.50 168.5 370.75 168.0 371.00 168.5 371.25 169.0 371.50 168.3 371.75 167.7 372.00 167.7 372.25 168.2 372.50 168.0 372.75 167.5 373.00 167.5 373.25 168.1 373.50 168.9 373.75 166.6 374.00 168.1 374.25 167.6 374.50 168.1 374.75 168.1 375.00 167.7 375.25 167.2 375.50 166.9 375.75 166.7 376.00 168.0 376.25 167.3 376.50 167.1 376.75 167.2 377.00 166.6 377.25 167.3 377.50 167.7 377.75 167.5 378.00 166.1 378.25 167.3 378.50 166.1 378.75 165.3 379.00 165.3 379.25 165.0 379.50 165.0 379.75 164.0 380.00 163.0 380.25 162.8 380.50 162.8 380.75 160.5 381.00 159.7 381.25 158.1 381.50 157.3 381.75 154.2 382.00 153.3 382.25 151.0 382.50 149.4 382.75 148.0 383.00 147.0 383.25 145.7 383.50 145.2 383.75 145.5 384.00 145.9 384.25 146.9 384.50 148.3 384.75 149.9 385.00 151.6 385.25 153.4 385.50 155.2 385.75 157.0 386.00 158.2 386.25 159.4 386.50 160.5 386.75 162.4 387.00 163.0 387.25 164.1 387.50 164.8 387.75 165.9 388.00 165.7 388.25 166.3 388.50 165.7 388.75 166.0 389.00 166.5 389.25 166.3 389.50 167.3 389.75 166.5 390.00 167.2 390.25 166.1 390.50 166.8 390.75 167.2 391.00 167.3 391.25 166.7 391.50 167.6 391.75 168.0 392.00 167.9 392.25 167.3 392.50 167.4 392.75 167.2 393.00 168.0 393.25 168.4 393.50 167.5 393.75 167.0 394.00 167.9 394.25 168.2 394.50 166.6 394.75 167.9 395.00 168.9 395.25 168.3 395.50 168.2 395.75 168.1 396.00 168.4 396.25 167.5 396.50 167.6 396.75 168.1 397.00 167.7 397.25 168.1 397.50 167.1 397.75 168.3 398.00 168.4 398.25 168.0 398.50 168.1 398.75 168.8 399.00 167.5 399.25 167.6 399.50 167.6 399.75 167.9 400.00 167.6 400.25 168.1 400.50 167.8 400.75 167.4 401.00 167.4 401.25 168.6 401.50 168.0 401.75 168.0 402.00 168.1 402.25 168.0 402.50 168.4 402.75 168.3 403.00 167.8 403.25 167.7 403.50 167.6 403.75 167.5 404.00 168.7 404.25 167.7 404.50 167.2 404.75 167.7 405.00 167.8 405.25 168.3 405.50 167.7 405.75 168.4 406.00 168.3 406.25 168.7 406.50 169.1 406.75 169.4 407.00 168.7 407.25 167.6 407.50 167.9 407.75 168.2 408.00 169.1 408.25 168.4 408.50 168.7 408.75 168.0 409.00 168.4 409.25 168.5 409.50 167.9 409.75 168.5 410.00 168.6 410.25 168.1 410.50 168.6 410.75 168.9 411.00 168.2 411.25 168.1 411.50 168.0 411.75 167.8 412.00 168.2 412.25 167.9 412.50 168.0 412.75 167.8 413.00 167.4 413.25 167.7 413.50 168.3 413.75 167.6 414.00 167.8 414.25 168.9 414.50 168.6 414.75 167.8 415.00 168.4 415.25 167.8 415.50 168.9 415.75 167.9 416.00 168.2 416.25 168.7 416.50 167.7 416.75 168.7 417.00 167.7 417.25 168.2 417.50 168.0 417.75 168.1 418.00 168.2 418.25 168.1 418.50 167.6 418.75 168.5 419.00 168.4 419.25 168.7 419.50 168.7 419.75 167.5 420.00 168.7 420.25 168.7 420.50 167.8 420.75 168.5 421.00 168.7 421.25 167.8 421.50 167.5 421.75 167.9 422.00 169.3 422.25 168.2 422.50 167.5 422.75 167.9 423.00 167.6 423.25 167.9 423.50 168.1 423.75 166.9 424.00 168.2 424.25 168.7 424.50 167.9 424.75 167.9 425.00 168.5 425.25 167.4 425.50 167.4 425.75 167.4 426.00 167.9 426.25 168.2 426.50 167.9 426.75 168.2 427.00 168.3 427.25 168.2 427.50 167.6 427.75 167.8 428.00 168.5 428.25 167.5 428.50 167.8 428.75 167.7 429.00 167.8 429.25 167.4 429.50 167.3 429.75 169.0 430.00 168.3 430.25 167.5 430.50 167.8 430.75 168.1 431.00 167.7 431.25 168.1 431.50 167.5 431.75 167.6 432.00 167.7 432.25 167.5 432.50 166.6 432.75 167.7 433.00 167.8 433.25 167.9 433.50 167.2 433.75 167.8 434.00 167.7 434.25 166.8 434.50 166.5 434.75 167.7 435.00 167.0 435.25 167.9 435.50 168.4 435.75 167.1 436.00 167.0 436.25 167.3 436.50 167.5 436.75 166.6 437.00 167.7 437.25 167.5 437.50 167.3 437.75 166.6 438.00 167.2 438.25 167.1 438.50 166.1 438.75 167.4 439.00 166.2 439.25 166.4 439.50 165.8 439.75 166.1 440.00 166.2 440.25 165.1 440.50 164.5 440.75 164.8 441.00 164.0 441.25 163.9 441.50 163.7 441.75 163.2 442.00 163.1 442.25 161.1 442.50 160.6 442.75 158.8 443.00 157.7 443.25 155.7 443.50 152.0 443.75 148.9 444.00 144.1 444.25 139.0 444.50 133.8 444.75 128.2 445.00 123.1 445.25 119.0 445.50 116.9 445.75 117.1 446.00 119.7 446.25 124.1 446.50 129.4 446.75 135.0 447.00 140.3 447.25 145.0 447.50 149.1 447.75 152.4 448.00 154.5 448.25 156.9 448.50 158.7 448.75 161.2 449.00 161.3 449.25 162.6 449.50 163.6 449.75 163.6 450.00 163.7 450.25 164.1 450.50 164.1 450.75 164.9 451.00 165.5 451.25 165.4 451.50 165.6 451.75 165.7 452.00 166.4 452.25 165.2 452.50 165.6 452.75 165.9 453.00 166.1 453.25 164.4 453.50 165.2 453.75 165.2 454.00 164.7 454.25 165.4 454.50 164.9 454.75 164.4 455.00 163.6 455.25 163.4 455.50 163.1 455.75 163.4 456.00 162.2 456.25 161.3 456.50 161.0 456.75 160.8 457.00 161.3 457.25 161.1 457.50 159.3 457.75 159.5 458.00 159.4 458.25 159.2 458.50 158.6 458.75 158.2 459.00 158.9 459.25 158.7 459.50 160.1 459.75 160.9 460.00 160.3 460.25 161.7 460.50 162.4 460.75 163.4 461.00 164.0 461.25 164.2 461.50 163.9 461.75 164.4 462.00 165.5 462.25 165.0 462.50 165.5 462.75 166.4 463.00 165.9 463.25 165.4 463.50 166.0 463.75 166.6 464.00 166.3 464.25 167.0 464.50 167.1 464.75 166.2 465.00 166.3 465.25 166.5 465.50 166.0 465.75 166.7 466.00 166.4 466.25 166.8 466.50 166.1 466.75 165.9 467.00 167.1 467.25 165.7 467.50 165.7 467.75 165.4 468.00 165.4 468.25 164.9 468.50 165.0 468.75 164.4 469.00 164.1 469.25 164.1 469.50 163.8 469.75 163.2 470.00 162.1 470.25 162.1 470.50 161.3 470.75 160.7 471.00 159.5 471.25 160.1 471.50 159.4 471.75 160.0 472.00 159.5 472.25 158.8 472.50 158.9 472.75 160.4 473.00 160.0 473.25 161.2 473.50 161.3 473.75 163.0 474.00 162.6 474.25 163.8 474.50 164.3 474.75 163.9 475.00 164.4 475.25 165.6 475.50 165.3 475.75 165.2 476.00 166.5 476.25 167.3 476.50 166.3 476.75 167.2 477.00 166.6 477.25 167.5 477.50 166.9 477.75 167.7 478.00 167.4 478.25 167.2 478.50 167.4 478.75 167.1 479.00 166.9 479.25 167.0 479.50 167.5 479.75 167.1 480.00 167.8 480.25 167.9 480.50 167.9 480.75 167.5 481.00 167.8 481.25 167.7 481.50 168.4 481.75 167.4 482.00 167.7 482.25 167.7 482.50 167.8 482.75 167.5 483.00 167.6 483.25 168.4 483.50 167.6 483.75 168.4 484.00 168.9 484.25 168.5 484.50 167.2 484.75 168.3 485.00 168.2 485.25 168.3 485.50 167.3 485.75 168.4 486.00 167.5 486.25 168.6 486.50 168.5 486.75 169.2 487.00 167.9 487.25 167.4 487.50 168.5 487.75 168.5 488.00 167.9 488.25 168.7 488.50 168.4 488.75 167.5 489.00 167.9 489.25 167.9 489.50 168.1 489.75 168.2 490.00 167.8 490.25 168.0 490.50 168.4 490.75 168.1 491.00 168.0 491.25 168.0 491.50 168.1 491.75 167.3 492.00 168.2 492.25 167.7 492.50 168.2 492.75 167.5 493.00 168.6 493.25 168.3 493.50 167.6 493.75 168.3 494.00 167.8 494.25 169.0 494.50 168.4 494.75 167.8 495.00 168.3 495.25 168.2 495.50 168.7 495.75 168.4 496.00 168.4 496.25 167.7 496.50 168.6 496.75 169.1 497.00 168.5 497.25 168.2 497.50 168.3 497.75 167.8 498.00 168.3 498.25 167.7 498.50 168.2 498.75 168.0 499.00 167.8 499.25 168.5 499.50 167.6 499.75 168.2 500.00 167.6 500.25 169.0 500.50 169.1 500.75 168.6 501.00 169.1 501.25 168.5 501.50 168.5 501.75 168.0 502.00 167.8 502.25 168.3 502.50 168.0 502.75 168.0 503.00 168.6 503.25 168.2 503.50 167.5 503.75 168.1 504.00 167.9 504.25 168.1 504.50 167.7 504.75 168.8 505.00 169.1 505.25 167.7 505.50 168.5 505.75 168.5 506.00 167.8 506.25 168.3 506.50 168.9 506.75 168.6 507.00 169.0 507.25 167.7 507.50 167.9 507.75 168.4 508.00 168.4 508.25 168.3 508.50 168.1 508.75 168.1 509.00 168.0 509.25 168.5 509.50 167.0 509.75 169.0 510.00 168.0 510.25 167.6 510.50 168.5 510.75 167.6 511.00 168.4 511.25 168.1 511.50 168.5 511.75 168.6 512.00 168.8 512.25 168.0 512.50 168.1 512.75 168.3 513.00 167.6 513.25 168.5 513.50 168.3 513.75 167.7 514.00 168.8 514.25 168.9 514.50 167.7 514.75 168.5 515.00 168.8 515.25 168.6 515.50 167.8 515.75 167.6 516.00 168.2 516.25 168.0 516.50 168.3 516.75 168.2 517.00 168.5 517.25 168.0 517.50 168.2 517.75 169.6 518.00 168.2 518.25 168.6 518.50 168.4 518.75 168.4 519.00 167.9 519.25 168.5 519.50 168.2 519.75 168.6 520.00 169.2 520.25 168.3 520.50 168.6 520.75 167.8 521.00 168.3 521.25 169.0 521.50 168.2 521.75 168.0 522.00 168.4 522.25 168.2 522.50 168.2 522.75 168.1 523.00 169.2 523.25 167.9 523.50 168.1 523.75 168.0 524.00 168.8 524.25 168.1 524.50 168.9 524.75 168.3 525.00 168.3 525.25 167.6 525.50 168.8 525.75 168.5 526.00 168.5 526.25 168.2 526.50 168.1 526.75 167.7 527.00 168.7 527.25 168.4 527.50 168.1 527.75 168.0 528.00 168.3 528.25 168.2 528.50 169.0 528.75 168.6 529.00 168.0 529.25 167.8 529.50 168.2 529.75 167.9 530.00 168.3 530.25 168.5 530.50 168.6 530.75 168.5 531.00 168.2 531.25 168.5 531.50 167.9 531.75 168.2 532.00 168.6 532.25 168.4 532.50 167.7 532.75 167.8 533.00 167.6 533.25 169.1 533.50 167.6 533.75 168.2 534.00 169.1 534.25 168.8 534.50 168.9 534.75 168.1 535.00 168.6 535.25 169.7 535.50 168.3 535.75 168.5 536.00 168.1 536.25 168.3 536.50 168.5"/>
</g>
<g stroke="#000" stroke-width="1.4" fill="none">
<line x1="30.45" y1="7.6" x2="30.45" y2="387.8"/>
</g>
<g stroke="#000" stroke-width="1.9" fill="none">
<line x1="30.45" y1="380.85" x2="536.7" y2="380.85"/>
</g>
<g stroke="#000" stroke-width="1.4" fill="none"><line x1="30.50" y1="380.8" x2="30.50" y2="387.8" /><line x1="93.75" y1="380.8" x2="93.75" y2="384.4" /><line x1="157.00" y1="380.8" x2="157.00" y2="387.8" /><line x1="220.25" y1="380.8" x2="220.25" y2="384.4" /><line x1="283.50" y1="380.8" x2="283.50" y2="387.8" /><line x1="346.75" y1="380.8" x2="346.75" y2="384.4" /><line x1="410.00" y1="380.8" x2="410.00" y2="387.8" /><line x1="473.25" y1="380.8" x2="473.25" y2="384.4" /><line x1="536.50" y1="380.8" x2="536.50" y2="387.8" /></g>
<g font-size="15.7" fill="#000"><text x="30.90" y="405.9" text-anchor="middle">20</text><text x="157.40" y="405.9" text-anchor="middle">30</text><text x="283.90" y="405.9" text-anchor="middle">40</text><text x="410.40" y="405.9" text-anchor="middle">50</text><text x="536.90" y="405.9" text-anchor="middle">60</text></g>
<text x="223.2" y="429.5" font-size="17.2" fill="#000">Diffraction angle (2<tspan font-family="'Liberation Serif', serif" font-weight="normal" font-size="18.5" stroke="#000" stroke-width="0.3">&#952;</tspan>)</text>
<text transform="translate(18.8,276.0) rotate(-90)" x="0" y="0" font-size="17.4" fill="#000">Intensity (arbitrary unit)</text>
<g font-size="15.8">
<text x="126.6" y="22.8" fill="#ff0000">Electrochemically self-doped TiO<tspan font-size="10.5" dy="4.6">2</tspan><tspan dy="-4.6"> (5 min, &#8722;1.5 V)</tspan></text>
<text x="126.6" y="44.5" fill="#0000ff">Crystallized TiO<tspan font-size="10.5" dy="4.6">2</tspan><tspan dy="-4.6"> (as annealed)</tspan></text>
<text x="126.6" y="65.7" fill="#000">Amorphous TiO<tspan font-size="10.5" dy="4.6">2</tspan><tspan dy="-4.6"> (as anodized)</tspan></text>
</g>
<g font-size="10.3" fill="#000" stroke="#000" stroke-width="0.25"><text x="95.7" y="18.3" text-anchor="middle">A</text><text x="219.8" y="153.2" text-anchor="middle">Ti</text><text x="253.0" y="139.2" text-anchor="middle">A</text><text x="262.5" y="105.2" text-anchor="middle">Ti</text><text x="286.0" y="127.2" text-anchor="middle">Ti</text><text x="338.0" y="160.5" text-anchor="middle">Al</text><text x="383.2" y="140.5" text-anchor="middle">A</text><text x="446.8" y="110.8" text-anchor="middle">Ti</text><text x="459.2" y="152.9" text-anchor="middle">A</text><text x="473.1" y="154.0" text-anchor="middle">A</text></g>
</svg>
</body></html>
